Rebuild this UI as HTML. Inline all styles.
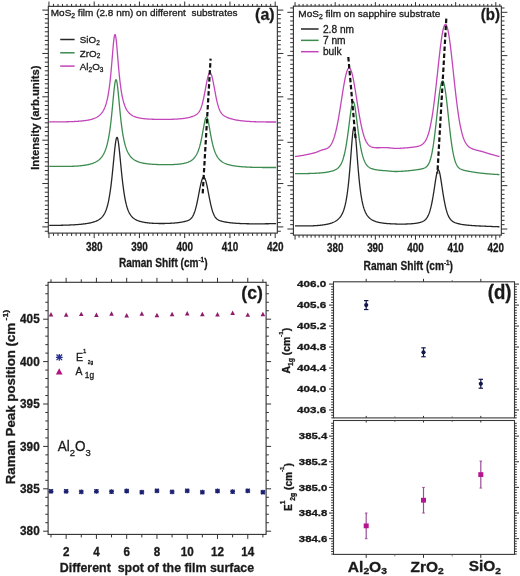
<!DOCTYPE html>
<html><head><meta charset="utf-8"><style>
html,body{margin:0;padding:0;background:#fff;}
svg{display:block;}
text{font-family:"Liberation Sans", Arial, sans-serif;}
</style></head><body>
<svg width="520" height="576" viewBox="0 0 520 576">
<rect width="520" height="576" fill="#fff"/>
<path d="M49.2,225.4 L49.7,225.4 L50.2,225.4 L50.7,225.4 L51.2,225.39 L51.7,225.39 L52.2,225.39 L52.7,225.38 L53.2,225.38 L53.7,225.38 L54.2,225.37 L54.7,225.37 L55.2,225.36 L55.7,225.36 L56.2,225.35 L56.7,225.35 L57.2,225.34 L57.7,225.33 L58.2,225.32 L58.7,225.32 L59.2,225.31 L59.7,225.3 L60.2,225.29 L60.7,225.28 L61.2,225.27 L61.7,225.26 L62.2,225.25 L62.7,225.24 L63.2,225.22 L63.7,225.21 L64.2,225.2 L64.7,225.18 L65.2,225.17 L65.7,225.16 L66.2,225.14 L66.7,225.12 L67.2,225.11 L67.7,225.09 L68.2,225.07 L68.7,225.05 L69.2,225.03 L69.7,225.01 L70.2,224.99 L70.7,224.97 L71.2,224.95 L71.7,224.92 L72.2,224.9 L72.7,224.87 L73.2,224.84 L73.7,224.82 L74.2,224.79 L74.7,224.76 L75.2,224.72 L75.7,224.69 L76.2,224.66 L76.7,224.62 L77.2,224.58 L77.7,224.54 L78.2,224.51 L78.7,224.46 L79.2,224.42 L79.7,224.38 L80.2,224.33 L80.7,224.28 L81.2,224.23 L81.7,224.18 L82.2,224.13 L82.7,224.08 L83.2,224.02 L83.7,223.96 L84.2,223.9 L84.7,223.83 L85.2,223.77 L85.7,223.7 L86.2,223.62 L86.7,223.55 L87.2,223.47 L87.7,223.39 L88.2,223.3 L88.7,223.21 L89.2,223.11 L89.7,223.01 L90.2,222.91 L90.7,222.8 L91.2,222.68 L91.7,222.56 L92.2,222.43 L92.7,222.29 L93.2,222.14 L93.7,221.99 L94.2,221.83 L94.7,221.65 L95.2,221.47 L95.7,221.27 L96.2,221.07 L96.7,220.84 L97.2,220.6 L97.7,220.35 L98.2,220.08 L98.7,219.78 L99.2,219.46 L99.7,219.12 L100.2,218.75 L100.7,218.34 L101.2,217.9 L101.7,217.42 L102.2,216.88 L102.7,216.3 L103.2,215.64 L103.7,214.92 L104.2,214.11 L104.7,213.2 L105.2,212.17 L105.7,211.02 L106.2,209.72 L106.7,208.26 L107.2,206.6 L107.7,204.74 L108.2,202.64 L108.7,200.28 L109.2,197.64 L109.7,194.7 L110.2,191.44 L110.7,187.84 L111.2,183.91 L111.7,179.63 L112.2,175.03 L112.7,170.15 L113.2,165.06 L113.7,159.87 L114.2,154.72 L114.7,149.8 L115.2,145.37 L115.7,141.68 L116.2,138.99 L116.7,137.51 L117.2,137.36 L117.7,138.57 L118.2,141.02 L118.7,144.53 L119.2,148.82 L119.7,153.65 L120.2,158.76 L120.7,163.95 L121.2,169.06 L121.7,173.97 L122.2,178.62 L122.7,182.95 L123.2,186.95 L123.7,190.6 L124.2,193.92 L124.7,196.91 L125.2,199.6 L125.7,202 L126.2,204.14 L126.7,206.03 L127.2,207.72 L127.7,209.21 L128.2,210.53 L128.7,211.69 L129.2,212.73 L129.7,213.65 L130.2,214.46 L130.7,215.19 L131.2,215.85 L131.7,216.44 L132.2,216.97 L132.7,217.45 L133.2,217.89 L133.7,218.29 L134.2,218.65 L134.7,218.99 L135.2,219.3 L135.7,219.59 L136.2,219.85 L136.7,220.1 L137.2,220.33 L137.7,220.54 L138.2,220.74 L138.7,220.92 L139.2,221.09 L139.7,221.26 L140.2,221.41 L140.7,221.55 L141.2,221.68 L141.7,221.81 L142.2,221.92 L142.7,222.03 L143.2,222.14 L143.7,222.23 L144.2,222.32 L144.7,222.41 L145.2,222.49 L145.7,222.57 L146.2,222.64 L146.7,222.71 L147.2,222.77 L147.7,222.83 L148.2,222.89 L148.7,222.94 L149.2,222.99 L149.7,223.04 L150.2,223.08 L150.7,223.12 L151.2,223.16 L151.7,223.19 L152.2,223.23 L152.7,223.26 L153.2,223.29 L153.7,223.31 L154.2,223.34 L154.7,223.36 L155.2,223.38 L155.7,223.4 L156.2,223.42 L156.7,223.44 L157.2,223.45 L157.7,223.46 L158.2,223.47 L158.7,223.48 L159.2,223.49 L159.7,223.5 L160.2,223.5 L160.7,223.51 L161.2,223.51 L161.7,223.51 L162.2,223.51 L162.7,223.5 L163.2,223.5 L163.7,223.5 L164.2,223.49 L164.7,223.48 L165.2,223.47 L165.7,223.46 L166.2,223.45 L166.7,223.43 L167.2,223.42 L167.7,223.4 L168.2,223.38 L168.7,223.37 L169.2,223.34 L169.7,223.32 L170.2,223.3 L170.7,223.27 L171.2,223.24 L171.7,223.21 L172.2,223.18 L172.7,223.15 L173.2,223.11 L173.7,223.07 L174.2,223.03 L174.7,222.99 L175.2,222.95 L175.7,222.9 L176.2,222.85 L176.7,222.8 L177.2,222.75 L177.7,222.69 L178.2,222.63 L178.7,222.57 L179.2,222.5 L179.7,222.43 L180.2,222.36 L180.7,222.28 L181.2,222.2 L181.7,222.11 L182.2,222.02 L182.7,221.93 L183.2,221.83 L183.7,221.73 L184.2,221.62 L184.7,221.5 L185.2,221.38 L185.7,221.25 L186.2,221.1 L186.7,220.95 L187.2,220.78 L187.7,220.6 L188.2,220.39 L188.7,220.16 L189.2,219.89 L189.7,219.58 L190.2,219.23 L190.7,218.82 L191.2,218.33 L191.7,217.76 L192.2,217.09 L192.7,216.31 L193.2,215.39 L193.7,214.33 L194.2,213.11 L194.7,211.72 L195.2,210.14 L195.7,208.37 L196.2,206.42 L196.7,204.29 L197.2,202 L197.7,199.56 L198.2,197.03 L198.7,194.43 L199.2,191.81 L199.7,189.24 L200.2,186.76 L200.7,184.45 L201.2,182.37 L201.7,180.57 L202.2,179.11 L202.7,178.03 L203.2,177.37 L203.7,177.15 L204.2,177.37 L204.7,178.03 L205.2,179.11 L205.7,180.57 L206.2,182.36 L206.7,184.45 L207.2,186.76 L207.7,189.23 L208.2,191.8 L208.7,194.42 L209.2,197.02 L209.7,199.55 L210.2,201.98 L210.7,204.27 L211.2,206.4 L211.7,208.35 L212.2,210.12 L212.7,211.7 L213.2,213.09 L213.7,214.31 L214.2,215.37 L214.7,216.29 L215.2,217.07 L215.7,217.74 L216.2,218.31 L216.7,218.79 L217.2,219.2 L217.7,219.56 L218.2,219.86 L218.7,220.13 L219.2,220.36 L219.7,220.57 L220.2,220.76 L220.7,220.92 L221.2,221.08 L221.7,221.22 L222.2,221.35 L222.7,221.48 L223.2,221.59 L223.7,221.7 L224.2,221.81 L224.7,221.91 L225.2,222 L225.7,222.09 L226.2,222.18 L226.7,222.26 L227.2,222.34 L227.7,222.41 L228.2,222.48 L228.7,222.55 L229.2,222.62 L229.7,222.68 L230.2,222.74 L230.7,222.8 L231.2,222.85 L231.7,222.9 L232.2,222.95 L232.7,223 L233.2,223.05 L233.7,223.09 L234.2,223.13 L234.7,223.17 L235.2,223.21 L235.7,223.24 L236.2,223.28 L236.7,223.31 L237.2,223.34 L237.7,223.38 L238.2,223.4 L238.7,223.43 L239.2,223.46 L239.7,223.49 L240.2,223.51 L240.7,223.53 L241.2,223.55 L241.7,223.58 L242.2,223.6 L242.7,223.61 L243.2,223.63 L243.7,223.65 L244.2,223.66 L244.7,223.68 L245.2,223.69 L245.7,223.71 L246.2,223.72 L246.7,223.73 L247.2,223.74 L247.7,223.75 L248.2,223.76 L248.7,223.77 L249.2,223.78 L249.7,223.78 L250.2,223.79 L250.7,223.8 L251.2,223.8 L251.7,223.81 L252.2,223.81 L252.7,223.81 L253.2,223.82 L253.7,223.82 L254.2,223.82 L254.7,223.82 L255.2,223.83 L255.7,223.83 L256.2,223.83 L256.7,223.83 L257.2,223.83 L257.7,223.82 L258.2,223.82 L258.7,223.82 L259.2,223.82 L259.7,223.82 L260.2,223.82 L260.7,223.81 L261.2,223.81 L261.7,223.81 L262.2,223.8 L262.7,223.8 L263.2,223.79 L263.7,223.79 L264.2,223.78 L264.7,223.78 L265.2,223.77 L265.7,223.77 L266.2,223.76 L266.7,223.75 L267.2,223.75 L267.7,223.74 L268.2,223.74 L268.7,223.73 L269.2,223.72 L269.7,223.71 L270.2,223.71 L270.7,223.7 L271.2,223.69 L271.7,223.68 L272.2,223.68 L272.7,223.67 L273.2,223.66 L273.7,223.65 L274.2,223.64 L274.7,223.63 L275.2,223.62 L275.7,223.62 L276.2,223.61" fill="none" stroke="#262626" stroke-width="1.3" stroke-linejoin="round" />
<path d="M49.2,166.3 L49.7,166.31 L50.2,166.32 L50.7,166.33 L51.2,166.34 L51.7,166.35 L52.2,166.36 L52.7,166.36 L53.2,166.37 L53.7,166.38 L54.2,166.39 L54.7,166.4 L55.2,166.4 L55.7,166.41 L56.2,166.41 L56.7,166.42 L57.2,166.43 L57.7,166.43 L58.2,166.43 L58.7,166.44 L59.2,166.44 L59.7,166.44 L60.2,166.45 L60.7,166.45 L61.2,166.45 L61.7,166.45 L62.2,166.45 L62.7,166.45 L63.2,166.45 L63.7,166.45 L64.2,166.44 L64.7,166.44 L65.2,166.44 L65.7,166.43 L66.2,166.43 L66.7,166.42 L67.2,166.41 L67.7,166.41 L68.2,166.4 L68.7,166.39 L69.2,166.38 L69.7,166.36 L70.2,166.35 L70.7,166.34 L71.2,166.32 L71.7,166.3 L72.2,166.29 L72.7,166.27 L73.2,166.25 L73.7,166.23 L74.2,166.2 L74.7,166.18 L75.2,166.15 L75.7,166.12 L76.2,166.09 L76.7,166.06 L77.2,166.03 L77.7,166 L78.2,165.96 L78.7,165.92 L79.2,165.88 L79.7,165.83 L80.2,165.79 L80.7,165.74 L81.2,165.69 L81.7,165.64 L82.2,165.58 L82.7,165.52 L83.2,165.46 L83.7,165.39 L84.2,165.32 L84.7,165.25 L85.2,165.17 L85.7,165.09 L86.2,165 L86.7,164.91 L87.2,164.82 L87.7,164.72 L88.2,164.61 L88.7,164.5 L89.2,164.38 L89.7,164.26 L90.2,164.13 L90.7,163.99 L91.2,163.84 L91.7,163.69 L92.2,163.52 L92.7,163.35 L93.2,163.16 L93.7,162.96 L94.2,162.76 L94.7,162.53 L95.2,162.3 L95.7,162.04 L96.2,161.77 L96.7,161.48 L97.2,161.17 L97.7,160.83 L98.2,160.47 L98.7,160.09 L99.2,159.67 L99.7,159.22 L100.2,158.73 L100.7,158.2 L101.2,157.62 L101.7,157 L102.2,156.31 L102.7,155.56 L103.2,154.74 L103.7,153.84 L104.2,152.85 L104.7,151.76 L105.2,150.55 L105.7,149.21 L106.2,147.73 L106.7,146.07 L107.2,144.23 L107.7,142.17 L108.2,139.87 L108.7,137.31 L109.2,134.43 L109.7,131.23 L110.2,127.67 L110.7,123.72 L111.2,119.38 L111.7,114.65 L112.2,109.6 L112.7,104.29 L113.2,98.89 L113.7,93.61 L114.2,88.73 L114.7,84.59 L115.2,81.52 L115.7,79.82 L116.2,79.65 L116.7,81.03 L117.2,83.81 L117.7,87.74 L118.2,92.47 L118.7,97.66 L119.2,103.04 L119.7,108.35 L120.2,113.44 L120.7,118.2 L121.2,122.59 L121.7,126.59 L122.2,130.21 L122.7,133.45 L123.2,136.36 L123.7,138.96 L124.2,141.29 L124.7,143.36 L125.2,145.22 L125.7,146.88 L126.2,148.37 L126.7,149.72 L127.2,150.92 L127.7,152.01 L128.2,153 L128.7,153.89 L129.2,154.7 L129.7,155.43 L130.2,156.11 L130.7,156.72 L131.2,157.28 L131.7,157.8 L132.2,158.27 L132.7,158.7 L133.2,159.1 L133.7,159.47 L134.2,159.81 L134.7,160.13 L135.2,160.42 L135.7,160.7 L136.2,160.95 L136.7,161.18 L137.2,161.4 L137.7,161.61 L138.2,161.8 L138.7,161.98 L139.2,162.14 L139.7,162.3 L140.2,162.45 L140.7,162.58 L141.2,162.71 L141.7,162.83 L142.2,162.95 L142.7,163.05 L143.2,163.15 L143.7,163.25 L144.2,163.34 L144.7,163.42 L145.2,163.5 L145.7,163.58 L146.2,163.65 L146.7,163.72 L147.2,163.78 L147.7,163.84 L148.2,163.9 L148.7,163.95 L149.2,164 L149.7,164.05 L150.2,164.09 L150.7,164.13 L151.2,164.17 L151.7,164.21 L152.2,164.25 L152.7,164.28 L153.2,164.31 L153.7,164.34 L154.2,164.37 L154.7,164.4 L155.2,164.43 L155.7,164.45 L156.2,164.47 L156.7,164.49 L157.2,164.51 L157.7,164.53 L158.2,164.55 L158.7,164.56 L159.2,164.58 L159.7,164.59 L160.2,164.6 L160.7,164.62 L161.2,164.63 L161.7,164.64 L162.2,164.64 L162.7,164.65 L163.2,164.66 L163.7,164.66 L164.2,164.67 L164.7,164.67 L165.2,164.67 L165.7,164.67 L166.2,164.67 L166.7,164.67 L167.2,164.67 L167.7,164.66 L168.2,164.66 L168.7,164.65 L169.2,164.64 L169.7,164.63 L170.2,164.62 L170.7,164.61 L171.2,164.6 L171.7,164.58 L172.2,164.56 L172.7,164.55 L173.2,164.53 L173.7,164.5 L174.2,164.48 L174.7,164.45 L175.2,164.42 L175.7,164.39 L176.2,164.36 L176.7,164.32 L177.2,164.29 L177.7,164.24 L178.2,164.2 L178.7,164.15 L179.2,164.1 L179.7,164.04 L180.2,163.98 L180.7,163.92 L181.2,163.85 L181.7,163.78 L182.2,163.7 L182.7,163.62 L183.2,163.53 L183.7,163.43 L184.2,163.32 L184.7,163.21 L185.2,163.09 L185.7,162.96 L186.2,162.82 L186.7,162.67 L187.2,162.5 L187.7,162.33 L188.2,162.14 L188.7,161.93 L189.2,161.71 L189.7,161.46 L190.2,161.2 L190.7,160.91 L191.2,160.6 L191.7,160.26 L192.2,159.88 L192.7,159.47 L193.2,159.03 L193.7,158.53 L194.2,157.99 L194.7,157.39 L195.2,156.73 L195.7,156 L196.2,155.19 L196.7,154.3 L197.2,153.3 L197.7,152.19 L198.2,150.96 L198.7,149.59 L199.2,148.08 L199.7,146.39 L200.2,144.53 L200.7,142.48 L201.2,140.24 L201.7,137.81 L202.2,135.2 L202.7,132.46 L203.2,129.63 L203.7,126.8 L204.2,124.08 L204.7,121.61 L205.2,119.55 L205.7,118.05 L206.2,117.24 L206.7,117.18 L207.2,117.88 L207.7,119.28 L208.2,121.28 L208.7,123.71 L209.2,126.42 L209.7,129.27 L210.2,132.14 L210.7,134.94 L211.2,137.61 L211.7,140.11 L212.2,142.42 L212.7,144.54 L213.2,146.48 L213.7,148.23 L214.2,149.81 L214.7,151.24 L215.2,152.53 L215.7,153.69 L216.2,154.74 L216.7,155.69 L217.2,156.55 L217.7,157.33 L218.2,158.03 L218.7,158.67 L219.2,159.26 L219.7,159.79 L220.2,160.28 L220.7,160.73 L221.2,161.14 L221.7,161.52 L222.2,161.87 L222.7,162.19 L223.2,162.49 L223.7,162.77 L224.2,163.03 L224.7,163.27 L225.2,163.49 L225.7,163.7 L226.2,163.9 L226.7,164.08 L227.2,164.26 L227.7,164.42 L228.2,164.57 L228.7,164.71 L229.2,164.85 L229.7,164.98 L230.2,165.1 L230.7,165.21 L231.2,165.32 L231.7,165.42 L232.2,165.52 L232.7,165.61 L233.2,165.7 L233.7,165.79 L234.2,165.87 L234.7,165.94 L235.2,166.02 L235.7,166.09 L236.2,166.15 L236.7,166.22 L237.2,166.28 L237.7,166.33 L238.2,166.39 L238.7,166.44 L239.2,166.49 L239.7,166.54 L240.2,166.59 L240.7,166.63 L241.2,166.68 L241.7,166.72 L242.2,166.76 L242.7,166.8 L243.2,166.83 L243.7,166.87 L244.2,166.9 L244.7,166.93 L245.2,166.96 L245.7,166.99 L246.2,167.02 L246.7,167.05 L247.2,167.07 L247.7,167.1 L248.2,167.12 L248.7,167.15 L249.2,167.17 L249.7,167.19 L250.2,167.21 L250.7,167.23 L251.2,167.24 L251.7,167.26 L252.2,167.28 L252.7,167.29 L253.2,167.31 L253.7,167.32 L254.2,167.34 L254.7,167.35 L255.2,167.36 L255.7,167.37 L256.2,167.39 L256.7,167.4 L257.2,167.41 L257.7,167.42 L258.2,167.42 L258.7,167.43 L259.2,167.44 L259.7,167.45 L260.2,167.46 L260.7,167.46 L261.2,167.47 L261.7,167.47 L262.2,167.48 L262.7,167.48 L263.2,167.49 L263.7,167.49 L264.2,167.5 L264.7,167.5 L265.2,167.5 L265.7,167.51 L266.2,167.51 L266.7,167.51 L267.2,167.51 L267.7,167.51 L268.2,167.52 L268.7,167.52 L269.2,167.52 L269.7,167.52 L270.2,167.52 L270.7,167.52 L271.2,167.52 L271.7,167.52 L272.2,167.52 L272.7,167.51 L273.2,167.51 L273.7,167.51 L274.2,167.51 L274.7,167.51 L275.2,167.51 L275.7,167.5 L276.2,167.5" fill="none" stroke="#3c8c50" stroke-width="1.3" stroke-linejoin="round" />
<path d="M49.2,121.9 L49.7,121.9 L50.2,121.91 L50.7,121.91 L51.2,121.91 L51.7,121.91 L52.2,121.91 L52.7,121.91 L53.2,121.91 L53.7,121.91 L54.2,121.91 L54.7,121.91 L55.2,121.91 L55.7,121.91 L56.2,121.91 L56.7,121.91 L57.2,121.9 L57.7,121.9 L58.2,121.9 L58.7,121.89 L59.2,121.89 L59.7,121.89 L60.2,121.88 L60.7,121.88 L61.2,121.87 L61.7,121.86 L62.2,121.86 L62.7,121.85 L63.2,121.84 L63.7,121.83 L64.2,121.82 L64.7,121.81 L65.2,121.8 L65.7,121.79 L66.2,121.78 L66.7,121.77 L67.2,121.76 L67.7,121.75 L68.2,121.73 L68.7,121.72 L69.2,121.7 L69.7,121.69 L70.2,121.67 L70.7,121.65 L71.2,121.63 L71.7,121.61 L72.2,121.59 L72.7,121.57 L73.2,121.55 L73.7,121.53 L74.2,121.5 L74.7,121.48 L75.2,121.45 L75.7,121.42 L76.2,121.4 L76.7,121.37 L77.2,121.33 L77.7,121.3 L78.2,121.27 L78.7,121.23 L79.2,121.19 L79.7,121.15 L80.2,121.11 L80.7,121.07 L81.2,121.02 L81.7,120.98 L82.2,120.93 L82.7,120.87 L83.2,120.82 L83.7,120.76 L84.2,120.7 L84.7,120.64 L85.2,120.57 L85.7,120.5 L86.2,120.43 L86.7,120.35 L87.2,120.27 L87.7,120.18 L88.2,120.09 L88.7,119.99 L89.2,119.89 L89.7,119.78 L90.2,119.66 L90.7,119.54 L91.2,119.41 L91.7,119.27 L92.2,119.13 L92.7,118.97 L93.2,118.8 L93.7,118.63 L94.2,118.44 L94.7,118.24 L95.2,118.02 L95.7,117.79 L96.2,117.54 L96.7,117.27 L97.2,116.98 L97.7,116.67 L98.2,116.34 L98.7,115.97 L99.2,115.58 L99.7,115.15 L100.2,114.68 L100.7,114.17 L101.2,113.61 L101.7,113 L102.2,112.33 L102.7,111.59 L103.2,110.77 L103.7,109.85 L104.2,108.84 L104.7,107.71 L105.2,106.45 L105.7,105.03 L106.2,103.44 L106.7,101.64 L107.2,99.6 L107.7,97.29 L108.2,94.67 L108.7,91.69 L109.2,88.32 L109.7,84.49 L110.2,80.17 L110.7,75.34 L111.2,70.01 L111.7,64.22 L112.2,58.12 L112.7,51.94 L113.2,46.04 L113.7,40.87 L114.2,36.94 L114.7,34.72 L115.2,34.5 L115.7,36.3 L116.2,39.88 L116.7,44.81 L117.2,50.57 L117.7,56.69 L118.2,62.79 L118.7,68.62 L119.2,74.01 L119.7,78.91 L120.2,83.29 L120.7,87.18 L121.2,90.61 L121.7,93.63 L122.2,96.28 L122.7,98.61 L123.2,100.66 L123.7,102.47 L124.2,104.07 L124.7,105.49 L125.2,106.75 L125.7,107.87 L126.2,108.87 L126.7,109.77 L127.2,110.57 L127.7,111.3 L128.2,111.95 L128.7,112.54 L129.2,113.08 L129.7,113.56 L130.2,114.01 L130.7,114.41 L131.2,114.78 L131.7,115.12 L132.2,115.43 L132.7,115.72 L133.2,115.98 L133.7,116.22 L134.2,116.45 L134.7,116.65 L135.2,116.84 L135.7,117.02 L136.2,117.18 L136.7,117.34 L137.2,117.48 L137.7,117.61 L138.2,117.73 L138.7,117.85 L139.2,117.95 L139.7,118.05 L140.2,118.15 L140.7,118.23 L141.2,118.32 L141.7,118.39 L142.2,118.46 L142.7,118.53 L143.2,118.59 L143.7,118.65 L144.2,118.7 L144.7,118.76 L145.2,118.8 L145.7,118.85 L146.2,118.89 L146.7,118.93 L147.2,118.97 L147.7,119 L148.2,119.04 L148.7,119.07 L149.2,119.1 L149.7,119.12 L150.2,119.15 L150.7,119.17 L151.2,119.19 L151.7,119.21 L152.2,119.23 L152.7,119.25 L153.2,119.27 L153.7,119.28 L154.2,119.3 L154.7,119.31 L155.2,119.32 L155.7,119.33 L156.2,119.35 L156.7,119.36 L157.2,119.36 L157.7,119.37 L158.2,119.38 L158.7,119.39 L159.2,119.39 L159.7,119.4 L160.2,119.4 L160.7,119.41 L161.2,119.41 L161.7,119.41 L162.2,119.41 L162.7,119.41 L163.2,119.41 L163.7,119.41 L164.2,119.41 L164.7,119.41 L165.2,119.41 L165.7,119.4 L166.2,119.4 L166.7,119.39 L167.2,119.39 L167.7,119.38 L168.2,119.37 L168.7,119.36 L169.2,119.35 L169.7,119.34 L170.2,119.33 L170.7,119.32 L171.2,119.3 L171.7,119.29 L172.2,119.27 L172.7,119.25 L173.2,119.24 L173.7,119.22 L174.2,119.2 L174.7,119.17 L175.2,119.15 L175.7,119.12 L176.2,119.1 L176.7,119.07 L177.2,119.04 L177.7,119 L178.2,118.97 L178.7,118.93 L179.2,118.89 L179.7,118.85 L180.2,118.81 L180.7,118.77 L181.2,118.72 L181.7,118.67 L182.2,118.61 L182.7,118.55 L183.2,118.49 L183.7,118.43 L184.2,118.36 L184.7,118.29 L185.2,118.22 L185.7,118.14 L186.2,118.05 L186.7,117.96 L187.2,117.87 L187.7,117.77 L188.2,117.66 L188.7,117.55 L189.2,117.44 L189.7,117.31 L190.2,117.18 L190.7,117.04 L191.2,116.89 L191.7,116.73 L192.2,116.57 L192.7,116.39 L193.2,116.2 L193.7,116 L194.2,115.78 L194.7,115.54 L195.2,115.28 L195.7,114.99 L196.2,114.67 L196.7,114.32 L197.2,113.91 L197.7,113.45 L198.2,112.92 L198.7,112.31 L199.2,111.59 L199.7,110.76 L200.2,109.79 L200.7,108.66 L201.2,107.37 L201.7,105.88 L202.2,104.2 L202.7,102.31 L203.2,100.22 L203.7,97.94 L204.2,95.49 L204.7,92.91 L205.2,90.23 L205.7,87.51 L206.2,84.82 L206.7,82.23 L207.2,79.81 L207.7,77.64 L208.2,75.8 L208.7,74.35 L209.2,73.33 L209.7,72.8 L210.2,72.76 L210.7,73.23 L211.2,74.18 L211.7,75.59 L212.2,77.39 L212.7,79.53 L213.2,81.94 L213.7,84.53 L214.2,87.24 L214.7,89.99 L215.2,92.71 L215.7,95.35 L216.2,97.87 L216.7,100.22 L217.2,102.38 L217.7,104.34 L218.2,106.09 L218.7,107.65 L219.2,109.01 L219.7,110.2 L220.2,111.23 L220.7,112.12 L221.2,112.89 L221.7,113.56 L222.2,114.13 L222.7,114.64 L223.2,115.08 L223.7,115.48 L224.2,115.84 L224.7,116.16 L225.2,116.45 L225.7,116.72 L226.2,116.98 L226.7,117.21 L227.2,117.44 L227.7,117.64 L228.2,117.84 L228.7,118.03 L229.2,118.21 L229.7,118.38 L230.2,118.54 L230.7,118.69 L231.2,118.84 L231.7,118.98 L232.2,119.12 L232.7,119.24 L233.2,119.37 L233.7,119.48 L234.2,119.59 L234.7,119.7 L235.2,119.8 L235.7,119.9 L236.2,119.99 L236.7,120.08 L237.2,120.17 L237.7,120.25 L238.2,120.33 L238.7,120.41 L239.2,120.48 L239.7,120.55 L240.2,120.62 L240.7,120.68 L241.2,120.74 L241.7,120.8 L242.2,120.86 L242.7,120.91 L243.2,120.96 L243.7,121.01 L244.2,121.06 L244.7,121.11 L245.2,121.15 L245.7,121.2 L246.2,121.24 L246.7,121.28 L247.2,121.31 L247.7,121.35 L248.2,121.39 L248.7,121.42 L249.2,121.45 L249.7,121.48 L250.2,121.51 L250.7,121.54 L251.2,121.57 L251.7,121.59 L252.2,121.62 L252.7,121.64 L253.2,121.66 L253.7,121.68 L254.2,121.71 L254.7,121.73 L255.2,121.74 L255.7,121.76 L256.2,121.78 L256.7,121.8 L257.2,121.81 L257.7,121.83 L258.2,121.84 L258.7,121.85 L259.2,121.86 L259.7,121.88 L260.2,121.89 L260.7,121.9 L261.2,121.91 L261.7,121.92 L262.2,121.93 L262.7,121.94 L263.2,121.94 L263.7,121.95 L264.2,121.96 L264.7,121.96 L265.2,121.97 L265.7,121.97 L266.2,121.98 L266.7,121.98 L267.2,121.99 L267.7,121.99 L268.2,121.99 L268.7,122 L269.2,122 L269.7,122 L270.2,122 L270.7,122 L271.2,122.01 L271.7,122.01 L272.2,122.01 L272.7,122.01 L273.2,122.01 L273.7,122.01 L274.2,122.01 L274.7,122.01 L275.2,122 L275.7,122 L276.2,122" fill="none" stroke="#c246b9" stroke-width="1.3" stroke-linejoin="round" />
<line x1="202.7" y1="193.4" x2="210.6" y2="58.6" stroke="#111" stroke-width="2.2" stroke-dasharray="4.5,2.5"/>
<rect x="48.3" y="6.35" width="229.05" height="226.75" fill="none" stroke="#303030" stroke-width="1.1"/>
<line x1="48.95" y1="233.1" x2="48.95" y2="238.1" stroke="#303030" stroke-width="1.0" />
<line x1="48.95" y1="6.35" x2="48.95" y2="1.55" stroke="#303030" stroke-width="1.0" />
<line x1="53.48" y1="233.1" x2="53.48" y2="235.9" stroke="#303030" stroke-width="1.0" />
<line x1="53.48" y1="6.35" x2="53.48" y2="3.95" stroke="#303030" stroke-width="1.0" />
<line x1="58" y1="233.1" x2="58" y2="235.9" stroke="#303030" stroke-width="1.0" />
<line x1="58" y1="6.35" x2="58" y2="3.95" stroke="#303030" stroke-width="1.0" />
<line x1="62.52" y1="233.1" x2="62.52" y2="235.9" stroke="#303030" stroke-width="1.0" />
<line x1="62.52" y1="6.35" x2="62.52" y2="3.95" stroke="#303030" stroke-width="1.0" />
<line x1="67.05" y1="233.1" x2="67.05" y2="235.9" stroke="#303030" stroke-width="1.0" />
<line x1="67.05" y1="6.35" x2="67.05" y2="3.95" stroke="#303030" stroke-width="1.0" />
<line x1="71.58" y1="233.1" x2="71.58" y2="235.9" stroke="#303030" stroke-width="1.0" />
<line x1="71.58" y1="6.35" x2="71.58" y2="3.95" stroke="#303030" stroke-width="1.0" />
<line x1="76.1" y1="233.1" x2="76.1" y2="235.9" stroke="#303030" stroke-width="1.0" />
<line x1="76.1" y1="6.35" x2="76.1" y2="3.95" stroke="#303030" stroke-width="1.0" />
<line x1="80.62" y1="233.1" x2="80.62" y2="235.9" stroke="#303030" stroke-width="1.0" />
<line x1="80.62" y1="6.35" x2="80.62" y2="3.95" stroke="#303030" stroke-width="1.0" />
<line x1="85.15" y1="233.1" x2="85.15" y2="235.9" stroke="#303030" stroke-width="1.0" />
<line x1="85.15" y1="6.35" x2="85.15" y2="3.95" stroke="#303030" stroke-width="1.0" />
<line x1="89.67" y1="233.1" x2="89.67" y2="235.9" stroke="#303030" stroke-width="1.0" />
<line x1="89.67" y1="6.35" x2="89.67" y2="3.95" stroke="#303030" stroke-width="1.0" />
<line x1="94.2" y1="233.1" x2="94.2" y2="238.1" stroke="#303030" stroke-width="1.0" />
<line x1="94.2" y1="6.35" x2="94.2" y2="1.55" stroke="#303030" stroke-width="1.0" />
<line x1="98.73" y1="233.1" x2="98.73" y2="235.9" stroke="#303030" stroke-width="1.0" />
<line x1="98.73" y1="6.35" x2="98.73" y2="3.95" stroke="#303030" stroke-width="1.0" />
<line x1="103.25" y1="233.1" x2="103.25" y2="235.9" stroke="#303030" stroke-width="1.0" />
<line x1="103.25" y1="6.35" x2="103.25" y2="3.95" stroke="#303030" stroke-width="1.0" />
<line x1="107.78" y1="233.1" x2="107.78" y2="235.9" stroke="#303030" stroke-width="1.0" />
<line x1="107.78" y1="6.35" x2="107.78" y2="3.95" stroke="#303030" stroke-width="1.0" />
<line x1="112.3" y1="233.1" x2="112.3" y2="235.9" stroke="#303030" stroke-width="1.0" />
<line x1="112.3" y1="6.35" x2="112.3" y2="3.95" stroke="#303030" stroke-width="1.0" />
<line x1="116.83" y1="233.1" x2="116.83" y2="235.9" stroke="#303030" stroke-width="1.0" />
<line x1="116.83" y1="6.35" x2="116.83" y2="3.95" stroke="#303030" stroke-width="1.0" />
<line x1="121.35" y1="233.1" x2="121.35" y2="235.9" stroke="#303030" stroke-width="1.0" />
<line x1="121.35" y1="6.35" x2="121.35" y2="3.95" stroke="#303030" stroke-width="1.0" />
<line x1="125.88" y1="233.1" x2="125.88" y2="235.9" stroke="#303030" stroke-width="1.0" />
<line x1="125.88" y1="6.35" x2="125.88" y2="3.95" stroke="#303030" stroke-width="1.0" />
<line x1="130.4" y1="233.1" x2="130.4" y2="235.9" stroke="#303030" stroke-width="1.0" />
<line x1="130.4" y1="6.35" x2="130.4" y2="3.95" stroke="#303030" stroke-width="1.0" />
<line x1="134.93" y1="233.1" x2="134.93" y2="235.9" stroke="#303030" stroke-width="1.0" />
<line x1="134.93" y1="6.35" x2="134.93" y2="3.95" stroke="#303030" stroke-width="1.0" />
<line x1="139.45" y1="233.1" x2="139.45" y2="238.1" stroke="#303030" stroke-width="1.0" />
<line x1="139.45" y1="6.35" x2="139.45" y2="1.55" stroke="#303030" stroke-width="1.0" />
<line x1="143.98" y1="233.1" x2="143.98" y2="235.9" stroke="#303030" stroke-width="1.0" />
<line x1="143.98" y1="6.35" x2="143.98" y2="3.95" stroke="#303030" stroke-width="1.0" />
<line x1="148.5" y1="233.1" x2="148.5" y2="235.9" stroke="#303030" stroke-width="1.0" />
<line x1="148.5" y1="6.35" x2="148.5" y2="3.95" stroke="#303030" stroke-width="1.0" />
<line x1="153.03" y1="233.1" x2="153.03" y2="235.9" stroke="#303030" stroke-width="1.0" />
<line x1="153.03" y1="6.35" x2="153.03" y2="3.95" stroke="#303030" stroke-width="1.0" />
<line x1="157.55" y1="233.1" x2="157.55" y2="235.9" stroke="#303030" stroke-width="1.0" />
<line x1="157.55" y1="6.35" x2="157.55" y2="3.95" stroke="#303030" stroke-width="1.0" />
<line x1="162.07" y1="233.1" x2="162.07" y2="235.9" stroke="#303030" stroke-width="1.0" />
<line x1="162.07" y1="6.35" x2="162.07" y2="3.95" stroke="#303030" stroke-width="1.0" />
<line x1="166.6" y1="233.1" x2="166.6" y2="235.9" stroke="#303030" stroke-width="1.0" />
<line x1="166.6" y1="6.35" x2="166.6" y2="3.95" stroke="#303030" stroke-width="1.0" />
<line x1="171.12" y1="233.1" x2="171.12" y2="235.9" stroke="#303030" stroke-width="1.0" />
<line x1="171.12" y1="6.35" x2="171.12" y2="3.95" stroke="#303030" stroke-width="1.0" />
<line x1="175.65" y1="233.1" x2="175.65" y2="235.9" stroke="#303030" stroke-width="1.0" />
<line x1="175.65" y1="6.35" x2="175.65" y2="3.95" stroke="#303030" stroke-width="1.0" />
<line x1="180.18" y1="233.1" x2="180.18" y2="235.9" stroke="#303030" stroke-width="1.0" />
<line x1="180.18" y1="6.35" x2="180.18" y2="3.95" stroke="#303030" stroke-width="1.0" />
<line x1="184.7" y1="233.1" x2="184.7" y2="238.1" stroke="#303030" stroke-width="1.0" />
<line x1="184.7" y1="6.35" x2="184.7" y2="1.55" stroke="#303030" stroke-width="1.0" />
<line x1="189.23" y1="233.1" x2="189.23" y2="235.9" stroke="#303030" stroke-width="1.0" />
<line x1="189.23" y1="6.35" x2="189.23" y2="3.95" stroke="#303030" stroke-width="1.0" />
<line x1="193.75" y1="233.1" x2="193.75" y2="235.9" stroke="#303030" stroke-width="1.0" />
<line x1="193.75" y1="6.35" x2="193.75" y2="3.95" stroke="#303030" stroke-width="1.0" />
<line x1="198.28" y1="233.1" x2="198.28" y2="235.9" stroke="#303030" stroke-width="1.0" />
<line x1="198.28" y1="6.35" x2="198.28" y2="3.95" stroke="#303030" stroke-width="1.0" />
<line x1="202.8" y1="233.1" x2="202.8" y2="235.9" stroke="#303030" stroke-width="1.0" />
<line x1="202.8" y1="6.35" x2="202.8" y2="3.95" stroke="#303030" stroke-width="1.0" />
<line x1="207.33" y1="233.1" x2="207.33" y2="235.9" stroke="#303030" stroke-width="1.0" />
<line x1="207.33" y1="6.35" x2="207.33" y2="3.95" stroke="#303030" stroke-width="1.0" />
<line x1="211.85" y1="233.1" x2="211.85" y2="235.9" stroke="#303030" stroke-width="1.0" />
<line x1="211.85" y1="6.35" x2="211.85" y2="3.95" stroke="#303030" stroke-width="1.0" />
<line x1="216.38" y1="233.1" x2="216.38" y2="235.9" stroke="#303030" stroke-width="1.0" />
<line x1="216.38" y1="6.35" x2="216.38" y2="3.95" stroke="#303030" stroke-width="1.0" />
<line x1="220.9" y1="233.1" x2="220.9" y2="235.9" stroke="#303030" stroke-width="1.0" />
<line x1="220.9" y1="6.35" x2="220.9" y2="3.95" stroke="#303030" stroke-width="1.0" />
<line x1="225.43" y1="233.1" x2="225.43" y2="235.9" stroke="#303030" stroke-width="1.0" />
<line x1="225.43" y1="6.35" x2="225.43" y2="3.95" stroke="#303030" stroke-width="1.0" />
<line x1="229.95" y1="233.1" x2="229.95" y2="238.1" stroke="#303030" stroke-width="1.0" />
<line x1="229.95" y1="6.35" x2="229.95" y2="1.55" stroke="#303030" stroke-width="1.0" />
<line x1="234.48" y1="233.1" x2="234.48" y2="235.9" stroke="#303030" stroke-width="1.0" />
<line x1="234.48" y1="6.35" x2="234.48" y2="3.95" stroke="#303030" stroke-width="1.0" />
<line x1="239" y1="233.1" x2="239" y2="235.9" stroke="#303030" stroke-width="1.0" />
<line x1="239" y1="6.35" x2="239" y2="3.95" stroke="#303030" stroke-width="1.0" />
<line x1="243.53" y1="233.1" x2="243.53" y2="235.9" stroke="#303030" stroke-width="1.0" />
<line x1="243.53" y1="6.35" x2="243.53" y2="3.95" stroke="#303030" stroke-width="1.0" />
<line x1="248.05" y1="233.1" x2="248.05" y2="235.9" stroke="#303030" stroke-width="1.0" />
<line x1="248.05" y1="6.35" x2="248.05" y2="3.95" stroke="#303030" stroke-width="1.0" />
<line x1="252.57" y1="233.1" x2="252.57" y2="235.9" stroke="#303030" stroke-width="1.0" />
<line x1="252.57" y1="6.35" x2="252.57" y2="3.95" stroke="#303030" stroke-width="1.0" />
<line x1="257.1" y1="233.1" x2="257.1" y2="235.9" stroke="#303030" stroke-width="1.0" />
<line x1="257.1" y1="6.35" x2="257.1" y2="3.95" stroke="#303030" stroke-width="1.0" />
<line x1="261.62" y1="233.1" x2="261.62" y2="235.9" stroke="#303030" stroke-width="1.0" />
<line x1="261.62" y1="6.35" x2="261.62" y2="3.95" stroke="#303030" stroke-width="1.0" />
<line x1="266.15" y1="233.1" x2="266.15" y2="235.9" stroke="#303030" stroke-width="1.0" />
<line x1="266.15" y1="6.35" x2="266.15" y2="3.95" stroke="#303030" stroke-width="1.0" />
<line x1="270.68" y1="233.1" x2="270.68" y2="235.9" stroke="#303030" stroke-width="1.0" />
<line x1="270.68" y1="6.35" x2="270.68" y2="3.95" stroke="#303030" stroke-width="1.0" />
<line x1="275.2" y1="233.1" x2="275.2" y2="238.1" stroke="#303030" stroke-width="1.0" />
<line x1="275.2" y1="6.35" x2="275.2" y2="1.55" stroke="#303030" stroke-width="1.0" />
<line x1="48.3" y1="10.1" x2="42.3" y2="10.1" stroke="#303030" stroke-width="1.0" />
<line x1="277.35" y1="10.1" x2="283.35" y2="10.1" stroke="#303030" stroke-width="1.0" />
<line x1="48.3" y1="14.44" x2="44.8" y2="14.44" stroke="#303030" stroke-width="1.0" />
<line x1="277.35" y1="14.44" x2="280.85" y2="14.44" stroke="#303030" stroke-width="1.0" />
<line x1="48.3" y1="18.77" x2="44.8" y2="18.77" stroke="#303030" stroke-width="1.0" />
<line x1="277.35" y1="18.77" x2="280.85" y2="18.77" stroke="#303030" stroke-width="1.0" />
<line x1="48.3" y1="23.11" x2="44.8" y2="23.11" stroke="#303030" stroke-width="1.0" />
<line x1="277.35" y1="23.11" x2="280.85" y2="23.11" stroke="#303030" stroke-width="1.0" />
<line x1="48.3" y1="27.44" x2="44.8" y2="27.44" stroke="#303030" stroke-width="1.0" />
<line x1="277.35" y1="27.44" x2="280.85" y2="27.44" stroke="#303030" stroke-width="1.0" />
<line x1="48.3" y1="31.78" x2="44.8" y2="31.78" stroke="#303030" stroke-width="1.0" />
<line x1="277.35" y1="31.78" x2="280.85" y2="31.78" stroke="#303030" stroke-width="1.0" />
<line x1="48.3" y1="36.12" x2="44.8" y2="36.12" stroke="#303030" stroke-width="1.0" />
<line x1="277.35" y1="36.12" x2="280.85" y2="36.12" stroke="#303030" stroke-width="1.0" />
<line x1="48.3" y1="40.45" x2="44.8" y2="40.45" stroke="#303030" stroke-width="1.0" />
<line x1="277.35" y1="40.45" x2="280.85" y2="40.45" stroke="#303030" stroke-width="1.0" />
<line x1="48.3" y1="44.79" x2="44.8" y2="44.79" stroke="#303030" stroke-width="1.0" />
<line x1="277.35" y1="44.79" x2="280.85" y2="44.79" stroke="#303030" stroke-width="1.0" />
<line x1="48.3" y1="49.12" x2="44.8" y2="49.12" stroke="#303030" stroke-width="1.0" />
<line x1="277.35" y1="49.12" x2="280.85" y2="49.12" stroke="#303030" stroke-width="1.0" />
<line x1="48.3" y1="53.46" x2="42.3" y2="53.46" stroke="#303030" stroke-width="1.0" />
<line x1="277.35" y1="53.46" x2="283.35" y2="53.46" stroke="#303030" stroke-width="1.0" />
<line x1="48.3" y1="57.8" x2="44.8" y2="57.8" stroke="#303030" stroke-width="1.0" />
<line x1="277.35" y1="57.8" x2="280.85" y2="57.8" stroke="#303030" stroke-width="1.0" />
<line x1="48.3" y1="62.13" x2="44.8" y2="62.13" stroke="#303030" stroke-width="1.0" />
<line x1="277.35" y1="62.13" x2="280.85" y2="62.13" stroke="#303030" stroke-width="1.0" />
<line x1="48.3" y1="66.47" x2="44.8" y2="66.47" stroke="#303030" stroke-width="1.0" />
<line x1="277.35" y1="66.47" x2="280.85" y2="66.47" stroke="#303030" stroke-width="1.0" />
<line x1="48.3" y1="70.8" x2="44.8" y2="70.8" stroke="#303030" stroke-width="1.0" />
<line x1="277.35" y1="70.8" x2="280.85" y2="70.8" stroke="#303030" stroke-width="1.0" />
<line x1="48.3" y1="75.14" x2="44.8" y2="75.14" stroke="#303030" stroke-width="1.0" />
<line x1="277.35" y1="75.14" x2="280.85" y2="75.14" stroke="#303030" stroke-width="1.0" />
<line x1="48.3" y1="79.48" x2="44.8" y2="79.48" stroke="#303030" stroke-width="1.0" />
<line x1="277.35" y1="79.48" x2="280.85" y2="79.48" stroke="#303030" stroke-width="1.0" />
<line x1="48.3" y1="83.81" x2="44.8" y2="83.81" stroke="#303030" stroke-width="1.0" />
<line x1="277.35" y1="83.81" x2="280.85" y2="83.81" stroke="#303030" stroke-width="1.0" />
<line x1="48.3" y1="88.15" x2="44.8" y2="88.15" stroke="#303030" stroke-width="1.0" />
<line x1="277.35" y1="88.15" x2="280.85" y2="88.15" stroke="#303030" stroke-width="1.0" />
<line x1="48.3" y1="92.48" x2="44.8" y2="92.48" stroke="#303030" stroke-width="1.0" />
<line x1="277.35" y1="92.48" x2="280.85" y2="92.48" stroke="#303030" stroke-width="1.0" />
<line x1="48.3" y1="96.82" x2="42.3" y2="96.82" stroke="#303030" stroke-width="1.0" />
<line x1="277.35" y1="96.82" x2="283.35" y2="96.82" stroke="#303030" stroke-width="1.0" />
<line x1="48.3" y1="101.16" x2="44.8" y2="101.16" stroke="#303030" stroke-width="1.0" />
<line x1="277.35" y1="101.16" x2="280.85" y2="101.16" stroke="#303030" stroke-width="1.0" />
<line x1="48.3" y1="105.49" x2="44.8" y2="105.49" stroke="#303030" stroke-width="1.0" />
<line x1="277.35" y1="105.49" x2="280.85" y2="105.49" stroke="#303030" stroke-width="1.0" />
<line x1="48.3" y1="109.83" x2="44.8" y2="109.83" stroke="#303030" stroke-width="1.0" />
<line x1="277.35" y1="109.83" x2="280.85" y2="109.83" stroke="#303030" stroke-width="1.0" />
<line x1="48.3" y1="114.16" x2="44.8" y2="114.16" stroke="#303030" stroke-width="1.0" />
<line x1="277.35" y1="114.16" x2="280.85" y2="114.16" stroke="#303030" stroke-width="1.0" />
<line x1="48.3" y1="118.5" x2="44.8" y2="118.5" stroke="#303030" stroke-width="1.0" />
<line x1="277.35" y1="118.5" x2="280.85" y2="118.5" stroke="#303030" stroke-width="1.0" />
<line x1="48.3" y1="122.84" x2="44.8" y2="122.84" stroke="#303030" stroke-width="1.0" />
<line x1="277.35" y1="122.84" x2="280.85" y2="122.84" stroke="#303030" stroke-width="1.0" />
<line x1="48.3" y1="127.17" x2="44.8" y2="127.17" stroke="#303030" stroke-width="1.0" />
<line x1="277.35" y1="127.17" x2="280.85" y2="127.17" stroke="#303030" stroke-width="1.0" />
<line x1="48.3" y1="131.51" x2="44.8" y2="131.51" stroke="#303030" stroke-width="1.0" />
<line x1="277.35" y1="131.51" x2="280.85" y2="131.51" stroke="#303030" stroke-width="1.0" />
<line x1="48.3" y1="135.84" x2="44.8" y2="135.84" stroke="#303030" stroke-width="1.0" />
<line x1="277.35" y1="135.84" x2="280.85" y2="135.84" stroke="#303030" stroke-width="1.0" />
<line x1="48.3" y1="140.18" x2="42.3" y2="140.18" stroke="#303030" stroke-width="1.0" />
<line x1="277.35" y1="140.18" x2="283.35" y2="140.18" stroke="#303030" stroke-width="1.0" />
<line x1="48.3" y1="144.52" x2="44.8" y2="144.52" stroke="#303030" stroke-width="1.0" />
<line x1="277.35" y1="144.52" x2="280.85" y2="144.52" stroke="#303030" stroke-width="1.0" />
<line x1="48.3" y1="148.85" x2="44.8" y2="148.85" stroke="#303030" stroke-width="1.0" />
<line x1="277.35" y1="148.85" x2="280.85" y2="148.85" stroke="#303030" stroke-width="1.0" />
<line x1="48.3" y1="153.19" x2="44.8" y2="153.19" stroke="#303030" stroke-width="1.0" />
<line x1="277.35" y1="153.19" x2="280.85" y2="153.19" stroke="#303030" stroke-width="1.0" />
<line x1="48.3" y1="157.52" x2="44.8" y2="157.52" stroke="#303030" stroke-width="1.0" />
<line x1="277.35" y1="157.52" x2="280.85" y2="157.52" stroke="#303030" stroke-width="1.0" />
<line x1="48.3" y1="161.86" x2="44.8" y2="161.86" stroke="#303030" stroke-width="1.0" />
<line x1="277.35" y1="161.86" x2="280.85" y2="161.86" stroke="#303030" stroke-width="1.0" />
<line x1="48.3" y1="166.2" x2="44.8" y2="166.2" stroke="#303030" stroke-width="1.0" />
<line x1="277.35" y1="166.2" x2="280.85" y2="166.2" stroke="#303030" stroke-width="1.0" />
<line x1="48.3" y1="170.53" x2="44.8" y2="170.53" stroke="#303030" stroke-width="1.0" />
<line x1="277.35" y1="170.53" x2="280.85" y2="170.53" stroke="#303030" stroke-width="1.0" />
<line x1="48.3" y1="174.87" x2="44.8" y2="174.87" stroke="#303030" stroke-width="1.0" />
<line x1="277.35" y1="174.87" x2="280.85" y2="174.87" stroke="#303030" stroke-width="1.0" />
<line x1="48.3" y1="179.2" x2="44.8" y2="179.2" stroke="#303030" stroke-width="1.0" />
<line x1="277.35" y1="179.2" x2="280.85" y2="179.2" stroke="#303030" stroke-width="1.0" />
<line x1="48.3" y1="183.54" x2="42.3" y2="183.54" stroke="#303030" stroke-width="1.0" />
<line x1="277.35" y1="183.54" x2="283.35" y2="183.54" stroke="#303030" stroke-width="1.0" />
<line x1="48.3" y1="187.88" x2="44.8" y2="187.88" stroke="#303030" stroke-width="1.0" />
<line x1="277.35" y1="187.88" x2="280.85" y2="187.88" stroke="#303030" stroke-width="1.0" />
<line x1="48.3" y1="192.21" x2="44.8" y2="192.21" stroke="#303030" stroke-width="1.0" />
<line x1="277.35" y1="192.21" x2="280.85" y2="192.21" stroke="#303030" stroke-width="1.0" />
<line x1="48.3" y1="196.55" x2="44.8" y2="196.55" stroke="#303030" stroke-width="1.0" />
<line x1="277.35" y1="196.55" x2="280.85" y2="196.55" stroke="#303030" stroke-width="1.0" />
<line x1="48.3" y1="200.88" x2="44.8" y2="200.88" stroke="#303030" stroke-width="1.0" />
<line x1="277.35" y1="200.88" x2="280.85" y2="200.88" stroke="#303030" stroke-width="1.0" />
<line x1="48.3" y1="205.22" x2="44.8" y2="205.22" stroke="#303030" stroke-width="1.0" />
<line x1="277.35" y1="205.22" x2="280.85" y2="205.22" stroke="#303030" stroke-width="1.0" />
<line x1="48.3" y1="209.56" x2="44.8" y2="209.56" stroke="#303030" stroke-width="1.0" />
<line x1="277.35" y1="209.56" x2="280.85" y2="209.56" stroke="#303030" stroke-width="1.0" />
<line x1="48.3" y1="213.89" x2="44.8" y2="213.89" stroke="#303030" stroke-width="1.0" />
<line x1="277.35" y1="213.89" x2="280.85" y2="213.89" stroke="#303030" stroke-width="1.0" />
<line x1="48.3" y1="218.23" x2="44.8" y2="218.23" stroke="#303030" stroke-width="1.0" />
<line x1="277.35" y1="218.23" x2="280.85" y2="218.23" stroke="#303030" stroke-width="1.0" />
<line x1="48.3" y1="222.56" x2="44.8" y2="222.56" stroke="#303030" stroke-width="1.0" />
<line x1="277.35" y1="222.56" x2="280.85" y2="222.56" stroke="#303030" stroke-width="1.0" />
<line x1="48.3" y1="226.9" x2="42.3" y2="226.9" stroke="#303030" stroke-width="1.0" />
<line x1="277.35" y1="226.9" x2="283.35" y2="226.9" stroke="#303030" stroke-width="1.0" />
<line x1="48.3" y1="231.24" x2="44.8" y2="231.24" stroke="#303030" stroke-width="1.0" />
<line x1="277.35" y1="231.24" x2="280.85" y2="231.24" stroke="#303030" stroke-width="1.0" />
<text x="94.2" y="251.1" font-size="12.2" stroke="#1a1a1a" stroke-width="0.3" font-weight="bold" text-anchor="middle" textLength="16.6" lengthAdjust="spacingAndGlyphs" fill="#1a1a1a">380</text>
<text x="139.45" y="251.1" font-size="12.2" stroke="#1a1a1a" stroke-width="0.3" font-weight="bold" text-anchor="middle" textLength="16.6" lengthAdjust="spacingAndGlyphs" fill="#1a1a1a">390</text>
<text x="184.7" y="251.1" font-size="12.2" stroke="#1a1a1a" stroke-width="0.3" font-weight="bold" text-anchor="middle" textLength="16.6" lengthAdjust="spacingAndGlyphs" fill="#1a1a1a">400</text>
<text x="229.95" y="251.1" font-size="12.2" stroke="#1a1a1a" stroke-width="0.3" font-weight="bold" text-anchor="middle" textLength="16.6" lengthAdjust="spacingAndGlyphs" fill="#1a1a1a">410</text>
<text x="275.2" y="251.1" font-size="12.2" stroke="#1a1a1a" stroke-width="0.3" font-weight="bold" text-anchor="middle" textLength="16.6" lengthAdjust="spacingAndGlyphs" fill="#1a1a1a">420</text>
<text x="118.9" y="267.4" font-size="12.8" stroke="#1a1a1a" stroke-width="0.3" font-weight="bold" textLength="88.6" lengthAdjust="spacingAndGlyphs" fill="#1a1a1a">Raman Shift (cm<tspan font-size="8" dy="-5.5">-1</tspan><tspan dy="5.5">)</tspan></text>
<text x="0" y="0" font-size="11.8" stroke="#1a1a1a" stroke-width="0.3" font-weight="bold" textLength="104.3" lengthAdjust="spacingAndGlyphs" fill="#1a1a1a" transform="translate(39,169.8) rotate(-90)">Intensity (arb.units)</text>
<text x="50.8" y="16.4" font-size="9.6" stroke="#1a1a1a" stroke-width="0.3" textLength="186.7" lengthAdjust="spacingAndGlyphs" fill="#1a1a1a">MoS<tspan font-size="6.5" dy="2">2</tspan><tspan dy="-2"> film (2.8 nm) on different&#160; substrates</tspan></text>
<text x="255.1" y="19.9" font-size="17.2" stroke="#1a1a1a" stroke-width="0.3" font-weight="bold" textLength="19.5" lengthAdjust="spacingAndGlyphs" fill="#1a1a1a">(a)</text>
<line x1="60.2" y1="39.5" x2="74.6" y2="39.5" stroke="#262626" stroke-width="1.5" />
<text x="79.8" y="43.3" font-size="9.8" stroke="#1a1a1a" stroke-width="0.3" fill="#1a1a1a">SiO<tspan font-size="6.5" dy="1.8">2</tspan></text>
<line x1="60.2" y1="52.8" x2="74.6" y2="52.8" stroke="#3c8c50" stroke-width="1.5" />
<text x="79.8" y="56.6" font-size="9.8" stroke="#1a1a1a" stroke-width="0.3" fill="#1a1a1a">ZrO<tspan font-size="6.5" dy="1.8">2</tspan></text>
<line x1="60.2" y1="66.1" x2="74.6" y2="66.1" stroke="#c246b9" stroke-width="1.5" />
<text x="79.8" y="69.9" font-size="9.8" stroke="#1a1a1a" stroke-width="0.3" fill="#1a1a1a">Al<tspan font-size="6.5" dy="1.8">2</tspan><tspan dy="-1.8">O</tspan><tspan font-size="6.5" dy="1.8">3</tspan></text>
<path d="M295,225.8 L295.5,225.81 L296,225.82 L296.5,225.83 L297,225.84 L297.5,225.84 L298,225.85 L298.5,225.86 L299,225.87 L299.5,225.87 L300,225.88 L300.5,225.89 L301,225.89 L301.5,225.9 L302,225.9 L302.5,225.91 L303,225.91 L303.5,225.91 L304,225.91 L304.5,225.91 L305,225.91 L305.5,225.91 L306,225.91 L306.5,225.91 L307,225.91 L307.5,225.9 L308,225.9 L308.5,225.89 L309,225.88 L309.5,225.87 L310,225.86 L310.5,225.85 L311,225.84 L311.5,225.83 L312,225.81 L312.5,225.79 L313,225.78 L313.5,225.75 L314,225.73 L314.5,225.71 L315,225.68 L315.5,225.66 L316,225.63 L316.5,225.59 L317,225.56 L317.5,225.52 L318,225.48 L318.5,225.44 L319,225.4 L319.5,225.35 L320,225.3 L320.5,225.25 L321,225.19 L321.5,225.13 L322,225.07 L322.5,225.01 L323,224.94 L323.5,224.87 L324,224.79 L324.5,224.71 L325,224.63 L325.5,224.54 L326,224.45 L326.5,224.36 L327,224.25 L327.5,224.15 L328,224.03 L328.5,223.91 L329,223.78 L329.5,223.65 L330,223.51 L330.5,223.36 L331,223.2 L331.5,223.03 L332,222.85 L332.5,222.65 L333,222.45 L333.5,222.23 L334,222 L334.5,221.75 L335,221.48 L335.5,221.19 L336,220.88 L336.5,220.55 L337,220.18 L337.5,219.79 L338,219.37 L338.5,218.91 L339,218.41 L339.5,217.86 L340,217.26 L340.5,216.59 L341,215.86 L341.5,215.04 L342,214.14 L342.5,213.12 L343,211.98 L343.5,210.69 L344,209.23 L344.5,207.58 L345,205.7 L345.5,203.57 L346,201.15 L346.5,198.4 L347,195.28 L347.5,191.75 L348,187.78 L348.5,183.33 L349,178.38 L349.5,172.93 L350,167.01 L350.5,160.7 L351,154.12 L351.5,147.51 L352,141.18 L352.5,135.54 L353,131.05 L353.5,128.13 L354,127.11 L354.5,128.1 L355,130.98 L355.5,135.45 L356,141.06 L356.5,147.35 L357,153.94 L357.5,160.48 L358,166.77 L358.5,172.66 L359,178.07 L359.5,182.99 L360,187.41 L360.5,191.35 L361,194.85 L361.5,197.94 L362,200.66 L362.5,203.06 L363,205.16 L363.5,207.01 L364,208.63 L364.5,210.06 L365,211.31 L365.5,212.43 L366,213.42 L366.5,214.3 L367,215.08 L367.5,215.79 L368,216.43 L368.5,217 L369,217.52 L369.5,218 L370,218.43 L370.5,218.83 L371,219.19 L371.5,219.53 L372,219.84 L372.5,220.12 L373,220.38 L373.5,220.63 L374,220.85 L374.5,221.06 L375,221.26 L375.5,221.44 L376,221.61 L376.5,221.76 L377,221.91 L377.5,222.05 L378,222.18 L378.5,222.3 L379,222.41 L379.5,222.52 L380,222.62 L380.5,222.71 L381,222.8 L381.5,222.88 L382,222.96 L382.5,223.03 L383,223.1 L383.5,223.17 L384,223.23 L384.5,223.29 L385,223.34 L385.5,223.39 L386,223.44 L386.5,223.49 L387,223.53 L387.5,223.57 L388,223.61 L388.5,223.65 L389,223.68 L389.5,223.71 L390,223.75 L390.5,223.77 L391,223.8 L391.5,223.83 L392,223.85 L392.5,223.87 L393,223.9 L393.5,223.92 L394,223.94 L394.5,223.95 L395,223.97 L395.5,223.99 L396,224 L396.5,224.01 L397,224.03 L397.5,224.04 L398,224.04 L398.5,224.05 L399,224.06 L399.5,224.07 L400,224.07 L400.5,224.07 L401,224.07 L401.5,224.07 L402,224.07 L402.5,224.07 L403,224.07 L403.5,224.06 L404,224.06 L404.5,224.05 L405,224.04 L405.5,224.03 L406,224.02 L406.5,224 L407,223.99 L407.5,223.97 L408,223.95 L408.5,223.93 L409,223.9 L409.5,223.88 L410,223.85 L410.5,223.82 L411,223.79 L411.5,223.75 L412,223.71 L412.5,223.67 L413,223.63 L413.5,223.58 L414,223.53 L414.5,223.47 L415,223.41 L415.5,223.34 L416,223.27 L416.5,223.2 L417,223.12 L417.5,223.03 L418,222.93 L418.5,222.83 L419,222.71 L419.5,222.59 L420,222.46 L420.5,222.31 L421,222.15 L421.5,221.98 L422,221.78 L422.5,221.56 L423,221.32 L423.5,221.05 L424,220.74 L424.5,220.39 L425,219.98 L425.5,219.52 L426,218.99 L426.5,218.38 L427,217.68 L427.5,216.86 L428,215.93 L428.5,214.85 L429,213.63 L429.5,212.23 L430,210.65 L430.5,208.87 L431,206.88 L431.5,204.67 L432,202.25 L432.5,199.6 L433,196.76 L433.5,193.72 L434,190.54 L434.5,187.25 L435,183.93 L435.5,180.67 L436,177.6 L436.5,174.85 L437,172.57 L437.5,170.92 L438,170.03 L438.5,169.95 L439,170.71 L439.5,172.23 L440,174.42 L440.5,177.11 L441,180.15 L441.5,183.4 L442,186.74 L442.5,190.06 L443,193.29 L443.5,196.38 L444,199.28 L444.5,201.99 L445,204.48 L445.5,206.75 L446,208.8 L446.5,210.64 L447,212.28 L447.5,213.74 L448,215.02 L448.5,216.14 L449,217.12 L449.5,217.98 L450,218.73 L450.5,219.38 L451,219.94 L451.5,220.44 L452,220.87 L452.5,221.25 L453,221.59 L453.5,221.89 L454,222.16 L454.5,222.41 L455,222.63 L455.5,222.83 L456,223.01 L456.5,223.18 L457,223.34 L457.5,223.49 L458,223.62 L458.5,223.75 L459,223.87 L459.5,223.98 L460,224.09 L460.5,224.19 L461,224.28 L461.5,224.37 L462,224.46 L462.5,224.53 L463,224.61 L463.5,224.68 L464,224.75 L464.5,224.82 L465,224.88 L465.5,224.94 L466,225 L466.5,225.05 L467,225.11 L467.5,225.16 L468,225.21 L468.5,225.25 L469,225.3 L469.5,225.34 L470,225.38 L470.5,225.42 L471,225.46 L471.5,225.5 L472,225.54 L472.5,225.57 L473,225.61 L473.5,225.64 L474,225.67 L474.5,225.7 L475,225.73 L475.5,225.76 L476,225.79 L476.5,225.82 L477,225.85 L477.5,225.88 L478,225.9 L478.5,225.93 L479,225.95 L479.5,225.98 L480,226 L480.5,226.02 L481,226.05 L481.5,226.07 L482,226.09 L482.5,226.11 L483,226.14 L483.5,226.16 L484,226.18 L484.5,226.2 L485,226.22 L485.5,226.25 L486,226.27 L486.5,226.29 L487,226.31 L487.5,226.33 L488,226.35 L488.5,226.37 L489,226.39 L489.5,226.41 L490,226.43 L490.5,226.45 L491,226.47 L491.5,226.49 L492,226.51 L492.5,226.53 L493,226.55 L493.5,226.57 L494,226.59 L494.5,226.61 L495,226.63 L495.5,226.65 L496,226.67 L496.5,226.69 L497,226.71 L497.5,226.72 L498,226.74 L498.5,226.76 L499,226.78 L499.5,226.8" fill="none" stroke="#262626" stroke-width="1.3" stroke-linejoin="round" />
<path d="M295,173.6 L295.5,173.6 L296,173.6 L296.5,173.61 L297,173.61 L297.5,173.61 L298,173.61 L298.5,173.61 L299,173.61 L299.5,173.61 L300,173.61 L300.5,173.61 L301,173.6 L301.5,173.6 L302,173.6 L302.5,173.6 L303,173.59 L303.5,173.59 L304,173.58 L304.5,173.58 L305,173.57 L305.5,173.56 L306,173.56 L306.5,173.55 L307,173.54 L307.5,173.53 L308,173.52 L308.5,173.51 L309,173.5 L309.5,173.49 L310,173.47 L310.5,173.46 L311,173.44 L311.5,173.43 L312,173.41 L312.5,173.39 L313,173.37 L313.5,173.36 L314,173.33 L314.5,173.31 L315,173.29 L315.5,173.27 L316,173.24 L316.5,173.21 L317,173.19 L317.5,173.16 L318,173.12 L318.5,173.09 L319,173.06 L319.5,173.02 L320,172.98 L320.5,172.94 L321,172.9 L321.5,172.86 L322,172.81 L322.5,172.76 L323,172.71 L323.5,172.66 L324,172.6 L324.5,172.54 L325,172.48 L325.5,172.41 L326,172.34 L326.5,172.26 L327,172.19 L327.5,172.1 L328,172.01 L328.5,171.92 L329,171.82 L329.5,171.71 L330,171.6 L330.5,171.48 L331,171.36 L331.5,171.22 L332,171.08 L332.5,170.93 L333,170.76 L333.5,170.58 L334,170.39 L334.5,170.18 L335,169.96 L335.5,169.71 L336,169.44 L336.5,169.14 L337,168.8 L337.5,168.43 L338,168.02 L338.5,167.55 L339,167.02 L339.5,166.42 L340,165.74 L340.5,164.97 L341,164.09 L341.5,163.09 L342,161.96 L342.5,160.68 L343,159.24 L343.5,157.61 L344,155.79 L344.5,153.76 L345,151.52 L345.5,149.04 L346,146.33 L346.5,143.37 L347,140.19 L347.5,136.77 L348,133.15 L348.5,129.35 L349,125.41 L349.5,121.4 L350,117.41 L350.5,113.55 L351,109.97 L351.5,106.82 L352,104.28 L352.5,102.5 L353,101.62 L353.5,101.7 L354,102.72 L354.5,104.62 L355,107.25 L355.5,110.46 L356,114.07 L356.5,117.92 L357,121.88 L357.5,125.84 L358,129.71 L358.5,133.43 L359,136.97 L359.5,140.3 L360,143.4 L360.5,146.26 L361,148.89 L361.5,151.28 L362,153.44 L362.5,155.38 L363,157.12 L363.5,158.67 L364,160.04 L364.5,161.25 L365,162.31 L365.5,163.24 L366,164.06 L366.5,164.77 L367,165.4 L367.5,165.94 L368,166.42 L368.5,166.84 L369,167.21 L369.5,167.54 L370,167.83 L370.5,168.09 L371,168.32 L371.5,168.53 L372,168.71 L372.5,168.88 L373,169.04 L373.5,169.18 L374,169.31 L374.5,169.43 L375,169.54 L375.5,169.65 L376,169.74 L376.5,169.83 L377,169.91 L377.5,169.98 L378,170.05 L378.5,170.12 L379,170.18 L379.5,170.24 L380,170.29 L380.5,170.34 L381,170.38 L381.5,170.43 L382,170.47 L382.5,170.5 L383,170.54 L383.5,170.57 L384,170.6 L384.5,170.63 L385,170.67 L385.5,170.7 L386,170.75 L386.5,170.79 L387,170.84 L387.5,170.89 L388,170.94 L388.5,170.99 L389,171.04 L389.5,171.09 L390,171.14 L390.5,171.19 L391,171.24 L391.5,171.28 L392,171.33 L392.5,171.37 L393,171.4 L393.5,171.44 L394,171.46 L394.5,171.48 L395,171.5 L395.5,171.51 L396,171.52 L396.5,171.51 L397,171.5 L397.5,171.48 L398,171.47 L398.5,171.45 L399,171.42 L399.5,171.4 L400,171.38 L400.5,171.35 L401,171.32 L401.5,171.3 L402,171.27 L402.5,171.23 L403,171.2 L403.5,171.17 L404,171.13 L404.5,171.1 L405,171.06 L405.5,171.02 L406,170.98 L406.5,170.93 L407,170.89 L407.5,170.85 L408,170.8 L408.5,170.75 L409,170.7 L409.5,170.65 L410,170.6 L410.5,170.55 L411,170.49 L411.5,170.44 L412,170.38 L412.5,170.32 L413,170.26 L413.5,170.2 L414,170.14 L414.5,170.07 L415,170.01 L415.5,169.94 L416,169.87 L416.5,169.8 L417,169.73 L417.5,169.65 L418,169.58 L418.5,169.5 L419,169.42 L419.5,169.33 L420,169.24 L420.5,169.15 L421,169.05 L421.5,168.94 L422,168.83 L422.5,168.7 L423,168.56 L423.5,168.41 L424,168.22 L424.5,168.01 L425,167.77 L425.5,167.48 L426,167.13 L426.5,166.72 L427,166.23 L427.5,165.64 L428,164.94 L428.5,164.11 L429,163.13 L429.5,161.97 L430,160.61 L430.5,159.04 L431,157.23 L431.5,155.15 L432,152.8 L432.5,150.17 L433,147.23 L433.5,143.99 L434,140.46 L434.5,136.66 L435,132.59 L435.5,128.31 L436,123.84 L436.5,119.26 L437,114.6 L437.5,109.96 L438,105.39 L438.5,100.99 L439,96.84 L439.5,93.02 L440,89.6 L440.5,86.67 L441,84.29 L441.5,82.51 L442,81.38 L442.5,80.92 L443,81.14 L443.5,82.04 L444,83.59 L444.5,85.77 L445,88.52 L445.5,91.78 L446,95.48 L446.5,99.54 L447,103.88 L447.5,108.42 L448,113.07 L448.5,117.76 L449,122.42 L449.5,126.97 L450,131.36 L450.5,135.55 L451,139.49 L451.5,143.16 L452,146.55 L452.5,149.63 L453,152.42 L453.5,154.92 L454,157.13 L454.5,159.07 L455,160.77 L455.5,162.24 L456,163.5 L456.5,164.58 L457,165.5 L457.5,166.28 L458,166.94 L458.5,167.49 L459,167.96 L459.5,168.36 L460,168.7 L460.5,168.99 L461,169.24 L461.5,169.46 L462,169.66 L462.5,169.83 L463,169.99 L463.5,170.13 L464,170.27 L464.5,170.4 L465,170.52 L465.5,170.64 L466,170.75 L466.5,170.86 L467,170.96 L467.5,171.06 L468,171.16 L468.5,171.26 L469,171.36 L469.5,171.45 L470,171.54 L470.5,171.63 L471,171.72 L471.5,171.81 L472,171.89 L472.5,171.98 L473,172.06 L473.5,172.14 L474,172.21 L474.5,172.29 L475,172.37 L475.5,172.44 L476,172.51 L476.5,172.58 L477,172.65 L477.5,172.72 L478,172.78 L478.5,172.85 L479,172.91 L479.5,172.97 L480,173.03 L480.5,173.09 L481,173.15 L481.5,173.21 L482,173.26 L482.5,173.32 L483,173.37 L483.5,173.42 L484,173.47 L484.5,173.52 L485,173.57 L485.5,173.62 L486,173.67 L486.5,173.71 L487,173.75 L487.5,173.8 L488,173.84 L488.5,173.88 L489,173.92 L489.5,173.96 L490,174 L490.5,174.04 L491,174.07 L491.5,174.11 L492,174.15 L492.5,174.18 L493,174.21 L493.5,174.25 L494,174.28 L494.5,174.31 L495,174.34 L495.5,174.37 L496,174.4 L496.5,174.43 L497,174.46 L497.5,174.49 L498,174.51 L498.5,174.54 L499,174.57 L499.5,174.59" fill="none" stroke="#3c8c50" stroke-width="1.3" stroke-linejoin="round" />
<path d="M295,156.5 L295.5,156.45 L296,156.39 L296.5,156.34 L297,156.28 L297.5,156.21 L298,156.15 L298.5,156.08 L299,156.01 L299.5,155.94 L300,155.86 L300.5,155.78 L301,155.7 L301.5,155.62 L302,155.54 L302.5,155.45 L303,155.36 L303.5,155.27 L304,155.18 L304.5,155.08 L305,154.98 L305.5,154.89 L306,154.79 L306.5,154.68 L307,154.58 L307.5,154.48 L308,154.37 L308.5,154.26 L309,154.15 L309.5,154.04 L310,153.93 L310.5,153.82 L311,153.7 L311.5,153.59 L312,153.47 L312.5,153.36 L313,153.24 L313.5,153.12 L314,153 L314.5,152.87 L315,152.72 L315.5,152.56 L316,152.38 L316.5,152.19 L317,152 L317.5,151.79 L318,151.59 L318.5,151.38 L319,151.17 L319.5,150.97 L320,150.76 L320.5,150.57 L321,150.38 L321.5,150.2 L322,150.04 L322.5,149.88 L323,149.74 L323.5,149.61 L324,149.5 L324.5,149.39 L325,149.25 L325.5,149.1 L326,148.92 L326.5,148.71 L327,148.47 L327.5,148.19 L328,147.87 L328.5,147.49 L329,147.06 L329.5,146.56 L330,145.99 L330.5,145.35 L331,144.61 L331.5,143.78 L332,142.84 L332.5,141.79 L333,140.62 L333.5,139.32 L334,137.88 L334.5,136.3 L335,134.58 L335.5,132.7 L336,130.67 L336.5,128.49 L337,126.15 L337.5,123.66 L338,121.04 L338.5,118.28 L339,115.39 L339.5,112.41 L340,109.33 L340.5,106.18 L341,102.98 L341.5,99.76 L342,96.54 L342.5,93.35 L343,90.22 L343.5,87.18 L344,84.27 L344.5,81.51 L345,78.94 L345.5,76.57 L346,74.45 L346.5,72.6 L347,71.03 L347.5,69.77 L348,68.83 L348.5,68.23 L349,67.97 L349.5,68.06 L350,68.49 L350.5,69.26 L351,70.35 L351.5,71.76 L352,73.47 L352.5,75.45 L353,77.69 L353.5,80.15 L354,82.8 L354.5,85.62 L355,88.57 L355.5,91.63 L356,94.77 L356.5,97.94 L357,101.13 L357.5,104.3 L358,107.44 L358.5,110.51 L359,113.5 L359.5,116.39 L360,119.17 L360.5,121.81 L361,124.32 L361.5,126.68 L362,128.89 L362.5,130.94 L363,132.84 L363.5,134.59 L364,136.19 L364.5,137.64 L365,138.96 L365.5,140.14 L366,141.2 L366.5,142.14 L367,142.98 L367.5,143.71 L368,144.35 L368.5,144.91 L369,145.39 L369.5,145.81 L370,146.17 L370.5,146.47 L371,146.73 L371.5,146.94 L372,147.12 L372.5,147.27 L373,147.39 L373.5,147.48 L374,147.56 L374.5,147.62 L375,147.67 L375.5,147.71 L376,147.73 L376.5,147.75 L377,147.76 L377.5,147.76 L378,147.76 L378.5,147.76 L379,147.75 L379.5,147.74 L380,147.73 L380.5,147.72 L381,147.71 L381.5,147.69 L382,147.67 L382.5,147.66 L383,147.64 L383.5,147.62 L384,147.6 L384.5,147.59 L385,147.58 L385.5,147.59 L386,147.6 L386.5,147.62 L387,147.65 L387.5,147.69 L388,147.73 L388.5,147.77 L389,147.82 L389.5,147.87 L390,147.92 L390.5,147.98 L391,148.03 L391.5,148.09 L392,148.14 L392.5,148.19 L393,148.24 L393.5,148.28 L394,148.32 L394.5,148.35 L395,148.38 L395.5,148.4 L396,148.41 L396.5,148.41 L397,148.4 L397.5,148.39 L398,148.37 L398.5,148.35 L399,148.33 L399.5,148.31 L400,148.28 L400.5,148.26 L401,148.23 L401.5,148.2 L402,148.17 L402.5,148.13 L403,148.1 L403.5,148.06 L404,148.02 L404.5,147.99 L405,147.95 L405.5,147.91 L406,147.86 L406.5,147.82 L407,147.78 L407.5,147.73 L408,147.69 L408.5,147.64 L409,147.6 L409.5,147.55 L410,147.5 L410.5,147.45 L411,147.4 L411.5,147.35 L412,147.29 L412.5,147.23 L413,147.17 L413.5,147.11 L414,147.04 L414.5,146.97 L415,146.89 L415.5,146.81 L416,146.72 L416.5,146.63 L417,146.52 L417.5,146.41 L418,146.29 L418.5,146.15 L419,146 L419.5,145.83 L420,145.64 L420.5,145.42 L421,145.17 L421.5,144.9 L422,144.58 L422.5,144.22 L423,143.81 L423.5,143.34 L424,142.81 L424.5,142.2 L425,141.51 L425.5,140.72 L426,139.84 L426.5,138.84 L427,137.72 L427.5,136.46 L428,135.05 L428.5,133.49 L429,131.75 L429.5,129.84 L430,127.74 L430.5,125.43 L431,122.93 L431.5,120.21 L432,117.28 L432.5,114.14 L433,110.78 L433.5,107.22 L434,103.46 L434.5,99.51 L435,95.39 L435.5,91.11 L436,86.7 L436.5,82.18 L437,77.59 L437.5,72.95 L438,68.31 L438.5,63.69 L439,59.14 L439.5,54.7 L440,50.41 L440.5,46.32 L441,42.47 L441.5,38.9 L442,35.65 L442.5,32.75 L443,30.24 L443.5,28.15 L444,26.5 L444.5,25.31 L445,24.61 L445.5,24.38 L446,24.65 L446.5,25.41 L447,26.64 L447.5,28.33 L448,30.47 L448.5,33.03 L449,35.97 L449.5,39.27 L450,42.89 L450.5,46.79 L451,50.92 L451.5,55.26 L452,59.74 L452.5,64.34 L453,69 L453.5,73.7 L454,78.38 L454.5,83.02 L455,87.59 L455.5,92.04 L456,96.37 L456.5,100.54 L457,104.54 L457.5,108.35 L458,111.96 L458.5,115.36 L459,118.56 L459.5,121.53 L460,124.3 L460.5,126.85 L461,129.21 L461.5,131.36 L462,133.32 L462.5,135.11 L463,136.72 L463.5,138.18 L464,139.49 L464.5,140.67 L465,141.72 L465.5,142.65 L466,143.49 L466.5,144.23 L467,144.89 L467.5,145.48 L468,146 L468.5,146.47 L469,146.88 L469.5,147.25 L470,147.59 L470.5,147.89 L471,148.16 L471.5,148.41 L472,148.63 L472.5,148.84 L473,149.04 L473.5,149.22 L474,149.39 L474.5,149.55 L475,149.71 L475.5,149.85 L476,149.99 L476.5,150.13 L477,150.26 L477.5,150.39 L478,150.52 L478.5,150.64 L479,150.76 L479.5,150.88 L480,151 L480.5,151.12 L481,151.25 L481.5,151.38 L482,151.52 L482.5,151.66 L483,151.81 L483.5,151.96 L484,152.12 L484.5,152.28 L485,152.44 L485.5,152.6 L486,152.76 L486.5,152.92 L487,153.08 L487.5,153.24 L488,153.4 L488.5,153.56 L489,153.71 L489.5,153.86 L490,154 L490.5,154.14 L491,154.28 L491.5,154.42 L492,154.56 L492.5,154.7 L493,154.83 L493.5,154.97 L494,155.11 L494.5,155.24 L495,155.38 L495.5,155.51 L496,155.65 L496.5,155.78 L497,155.91 L497.5,156.05 L498,156.18 L498.5,156.31 L499,156.44 L499.5,156.57" fill="none" stroke="#c246b9" stroke-width="1.3" stroke-linejoin="round" />
<line x1="348.3" y1="57" x2="355.5" y2="138.2" stroke="#111" stroke-width="2.2" stroke-dasharray="4.5,2.5"/>
<line x1="446.3" y1="18.6" x2="437.4" y2="173.5" stroke="#111" stroke-width="2.2" stroke-dasharray="4.5,2.5"/>
<rect x="293.4" y="6.15" width="207.95" height="228.95" fill="none" stroke="#303030" stroke-width="1.1"/>
<line x1="295.05" y1="235.1" x2="295.05" y2="239.6" stroke="#303030" stroke-width="1.0" />
<line x1="295.05" y1="6.15" x2="295.05" y2="2.15" stroke="#303030" stroke-width="1.0" />
<line x1="299.06" y1="235.1" x2="299.06" y2="237.7" stroke="#303030" stroke-width="1.0" />
<line x1="299.06" y1="6.15" x2="299.06" y2="3.95" stroke="#303030" stroke-width="1.0" />
<line x1="303.08" y1="235.1" x2="303.08" y2="237.7" stroke="#303030" stroke-width="1.0" />
<line x1="303.08" y1="6.15" x2="303.08" y2="3.95" stroke="#303030" stroke-width="1.0" />
<line x1="307.09" y1="235.1" x2="307.09" y2="237.7" stroke="#303030" stroke-width="1.0" />
<line x1="307.09" y1="6.15" x2="307.09" y2="3.95" stroke="#303030" stroke-width="1.0" />
<line x1="311.11" y1="235.1" x2="311.11" y2="237.7" stroke="#303030" stroke-width="1.0" />
<line x1="311.11" y1="6.15" x2="311.11" y2="3.95" stroke="#303030" stroke-width="1.0" />
<line x1="315.12" y1="235.1" x2="315.12" y2="237.7" stroke="#303030" stroke-width="1.0" />
<line x1="315.12" y1="6.15" x2="315.12" y2="3.95" stroke="#303030" stroke-width="1.0" />
<line x1="319.14" y1="235.1" x2="319.14" y2="237.7" stroke="#303030" stroke-width="1.0" />
<line x1="319.14" y1="6.15" x2="319.14" y2="3.95" stroke="#303030" stroke-width="1.0" />
<line x1="323.15" y1="235.1" x2="323.15" y2="237.7" stroke="#303030" stroke-width="1.0" />
<line x1="323.15" y1="6.15" x2="323.15" y2="3.95" stroke="#303030" stroke-width="1.0" />
<line x1="327.17" y1="235.1" x2="327.17" y2="237.7" stroke="#303030" stroke-width="1.0" />
<line x1="327.17" y1="6.15" x2="327.17" y2="3.95" stroke="#303030" stroke-width="1.0" />
<line x1="331.19" y1="235.1" x2="331.19" y2="237.7" stroke="#303030" stroke-width="1.0" />
<line x1="331.19" y1="6.15" x2="331.19" y2="3.95" stroke="#303030" stroke-width="1.0" />
<line x1="335.2" y1="235.1" x2="335.2" y2="239.6" stroke="#303030" stroke-width="1.0" />
<line x1="335.2" y1="6.15" x2="335.2" y2="2.15" stroke="#303030" stroke-width="1.0" />
<line x1="339.21" y1="235.1" x2="339.21" y2="237.7" stroke="#303030" stroke-width="1.0" />
<line x1="339.21" y1="6.15" x2="339.21" y2="3.95" stroke="#303030" stroke-width="1.0" />
<line x1="343.23" y1="235.1" x2="343.23" y2="237.7" stroke="#303030" stroke-width="1.0" />
<line x1="343.23" y1="6.15" x2="343.23" y2="3.95" stroke="#303030" stroke-width="1.0" />
<line x1="347.25" y1="235.1" x2="347.25" y2="237.7" stroke="#303030" stroke-width="1.0" />
<line x1="347.25" y1="6.15" x2="347.25" y2="3.95" stroke="#303030" stroke-width="1.0" />
<line x1="351.26" y1="235.1" x2="351.26" y2="237.7" stroke="#303030" stroke-width="1.0" />
<line x1="351.26" y1="6.15" x2="351.26" y2="3.95" stroke="#303030" stroke-width="1.0" />
<line x1="355.27" y1="235.1" x2="355.27" y2="237.7" stroke="#303030" stroke-width="1.0" />
<line x1="355.27" y1="6.15" x2="355.27" y2="3.95" stroke="#303030" stroke-width="1.0" />
<line x1="359.29" y1="235.1" x2="359.29" y2="237.7" stroke="#303030" stroke-width="1.0" />
<line x1="359.29" y1="6.15" x2="359.29" y2="3.95" stroke="#303030" stroke-width="1.0" />
<line x1="363.31" y1="235.1" x2="363.31" y2="237.7" stroke="#303030" stroke-width="1.0" />
<line x1="363.31" y1="6.15" x2="363.31" y2="3.95" stroke="#303030" stroke-width="1.0" />
<line x1="367.32" y1="235.1" x2="367.32" y2="237.7" stroke="#303030" stroke-width="1.0" />
<line x1="367.32" y1="6.15" x2="367.32" y2="3.95" stroke="#303030" stroke-width="1.0" />
<line x1="371.33" y1="235.1" x2="371.33" y2="237.7" stroke="#303030" stroke-width="1.0" />
<line x1="371.33" y1="6.15" x2="371.33" y2="3.95" stroke="#303030" stroke-width="1.0" />
<line x1="375.35" y1="235.1" x2="375.35" y2="239.6" stroke="#303030" stroke-width="1.0" />
<line x1="375.35" y1="6.15" x2="375.35" y2="2.15" stroke="#303030" stroke-width="1.0" />
<line x1="379.37" y1="235.1" x2="379.37" y2="237.7" stroke="#303030" stroke-width="1.0" />
<line x1="379.37" y1="6.15" x2="379.37" y2="3.95" stroke="#303030" stroke-width="1.0" />
<line x1="383.38" y1="235.1" x2="383.38" y2="237.7" stroke="#303030" stroke-width="1.0" />
<line x1="383.38" y1="6.15" x2="383.38" y2="3.95" stroke="#303030" stroke-width="1.0" />
<line x1="387.39" y1="235.1" x2="387.39" y2="237.7" stroke="#303030" stroke-width="1.0" />
<line x1="387.39" y1="6.15" x2="387.39" y2="3.95" stroke="#303030" stroke-width="1.0" />
<line x1="391.41" y1="235.1" x2="391.41" y2="237.7" stroke="#303030" stroke-width="1.0" />
<line x1="391.41" y1="6.15" x2="391.41" y2="3.95" stroke="#303030" stroke-width="1.0" />
<line x1="395.42" y1="235.1" x2="395.42" y2="237.7" stroke="#303030" stroke-width="1.0" />
<line x1="395.42" y1="6.15" x2="395.42" y2="3.95" stroke="#303030" stroke-width="1.0" />
<line x1="399.44" y1="235.1" x2="399.44" y2="237.7" stroke="#303030" stroke-width="1.0" />
<line x1="399.44" y1="6.15" x2="399.44" y2="3.95" stroke="#303030" stroke-width="1.0" />
<line x1="403.45" y1="235.1" x2="403.45" y2="237.7" stroke="#303030" stroke-width="1.0" />
<line x1="403.45" y1="6.15" x2="403.45" y2="3.95" stroke="#303030" stroke-width="1.0" />
<line x1="407.47" y1="235.1" x2="407.47" y2="237.7" stroke="#303030" stroke-width="1.0" />
<line x1="407.47" y1="6.15" x2="407.47" y2="3.95" stroke="#303030" stroke-width="1.0" />
<line x1="411.49" y1="235.1" x2="411.49" y2="237.7" stroke="#303030" stroke-width="1.0" />
<line x1="411.49" y1="6.15" x2="411.49" y2="3.95" stroke="#303030" stroke-width="1.0" />
<line x1="415.5" y1="235.1" x2="415.5" y2="239.6" stroke="#303030" stroke-width="1.0" />
<line x1="415.5" y1="6.15" x2="415.5" y2="2.15" stroke="#303030" stroke-width="1.0" />
<line x1="419.51" y1="235.1" x2="419.51" y2="237.7" stroke="#303030" stroke-width="1.0" />
<line x1="419.51" y1="6.15" x2="419.51" y2="3.95" stroke="#303030" stroke-width="1.0" />
<line x1="423.53" y1="235.1" x2="423.53" y2="237.7" stroke="#303030" stroke-width="1.0" />
<line x1="423.53" y1="6.15" x2="423.53" y2="3.95" stroke="#303030" stroke-width="1.0" />
<line x1="427.54" y1="235.1" x2="427.54" y2="237.7" stroke="#303030" stroke-width="1.0" />
<line x1="427.54" y1="6.15" x2="427.54" y2="3.95" stroke="#303030" stroke-width="1.0" />
<line x1="431.56" y1="235.1" x2="431.56" y2="237.7" stroke="#303030" stroke-width="1.0" />
<line x1="431.56" y1="6.15" x2="431.56" y2="3.95" stroke="#303030" stroke-width="1.0" />
<line x1="435.57" y1="235.1" x2="435.57" y2="237.7" stroke="#303030" stroke-width="1.0" />
<line x1="435.57" y1="6.15" x2="435.57" y2="3.95" stroke="#303030" stroke-width="1.0" />
<line x1="439.59" y1="235.1" x2="439.59" y2="237.7" stroke="#303030" stroke-width="1.0" />
<line x1="439.59" y1="6.15" x2="439.59" y2="3.95" stroke="#303030" stroke-width="1.0" />
<line x1="443.6" y1="235.1" x2="443.6" y2="237.7" stroke="#303030" stroke-width="1.0" />
<line x1="443.6" y1="6.15" x2="443.6" y2="3.95" stroke="#303030" stroke-width="1.0" />
<line x1="447.62" y1="235.1" x2="447.62" y2="237.7" stroke="#303030" stroke-width="1.0" />
<line x1="447.62" y1="6.15" x2="447.62" y2="3.95" stroke="#303030" stroke-width="1.0" />
<line x1="451.63" y1="235.1" x2="451.63" y2="237.7" stroke="#303030" stroke-width="1.0" />
<line x1="451.63" y1="6.15" x2="451.63" y2="3.95" stroke="#303030" stroke-width="1.0" />
<line x1="455.65" y1="235.1" x2="455.65" y2="239.6" stroke="#303030" stroke-width="1.0" />
<line x1="455.65" y1="6.15" x2="455.65" y2="2.15" stroke="#303030" stroke-width="1.0" />
<line x1="459.66" y1="235.1" x2="459.66" y2="237.7" stroke="#303030" stroke-width="1.0" />
<line x1="459.66" y1="6.15" x2="459.66" y2="3.95" stroke="#303030" stroke-width="1.0" />
<line x1="463.68" y1="235.1" x2="463.68" y2="237.7" stroke="#303030" stroke-width="1.0" />
<line x1="463.68" y1="6.15" x2="463.68" y2="3.95" stroke="#303030" stroke-width="1.0" />
<line x1="467.69" y1="235.1" x2="467.69" y2="237.7" stroke="#303030" stroke-width="1.0" />
<line x1="467.69" y1="6.15" x2="467.69" y2="3.95" stroke="#303030" stroke-width="1.0" />
<line x1="471.71" y1="235.1" x2="471.71" y2="237.7" stroke="#303030" stroke-width="1.0" />
<line x1="471.71" y1="6.15" x2="471.71" y2="3.95" stroke="#303030" stroke-width="1.0" />
<line x1="475.72" y1="235.1" x2="475.72" y2="237.7" stroke="#303030" stroke-width="1.0" />
<line x1="475.72" y1="6.15" x2="475.72" y2="3.95" stroke="#303030" stroke-width="1.0" />
<line x1="479.74" y1="235.1" x2="479.74" y2="237.7" stroke="#303030" stroke-width="1.0" />
<line x1="479.74" y1="6.15" x2="479.74" y2="3.95" stroke="#303030" stroke-width="1.0" />
<line x1="483.75" y1="235.1" x2="483.75" y2="237.7" stroke="#303030" stroke-width="1.0" />
<line x1="483.75" y1="6.15" x2="483.75" y2="3.95" stroke="#303030" stroke-width="1.0" />
<line x1="487.77" y1="235.1" x2="487.77" y2="237.7" stroke="#303030" stroke-width="1.0" />
<line x1="487.77" y1="6.15" x2="487.77" y2="3.95" stroke="#303030" stroke-width="1.0" />
<line x1="491.78" y1="235.1" x2="491.78" y2="237.7" stroke="#303030" stroke-width="1.0" />
<line x1="491.78" y1="6.15" x2="491.78" y2="3.95" stroke="#303030" stroke-width="1.0" />
<line x1="495.8" y1="235.1" x2="495.8" y2="239.6" stroke="#303030" stroke-width="1.0" />
<line x1="495.8" y1="6.15" x2="495.8" y2="2.15" stroke="#303030" stroke-width="1.0" />
<line x1="499.81" y1="235.1" x2="499.81" y2="237.7" stroke="#303030" stroke-width="1.0" />
<line x1="499.81" y1="6.15" x2="499.81" y2="3.95" stroke="#303030" stroke-width="1.0" />
<line x1="293.4" y1="7.97" x2="290.2" y2="7.97" stroke="#303030" stroke-width="1.0" />
<line x1="501.35" y1="7.97" x2="504.55" y2="7.97" stroke="#303030" stroke-width="1.0" />
<line x1="293.4" y1="12.3" x2="287.4" y2="12.3" stroke="#303030" stroke-width="1.0" />
<line x1="501.35" y1="12.3" x2="507.35" y2="12.3" stroke="#303030" stroke-width="1.0" />
<line x1="293.4" y1="16.63" x2="290.2" y2="16.63" stroke="#303030" stroke-width="1.0" />
<line x1="501.35" y1="16.63" x2="504.55" y2="16.63" stroke="#303030" stroke-width="1.0" />
<line x1="293.4" y1="20.97" x2="290.2" y2="20.97" stroke="#303030" stroke-width="1.0" />
<line x1="501.35" y1="20.97" x2="504.55" y2="20.97" stroke="#303030" stroke-width="1.0" />
<line x1="293.4" y1="25.3" x2="290.2" y2="25.3" stroke="#303030" stroke-width="1.0" />
<line x1="501.35" y1="25.3" x2="504.55" y2="25.3" stroke="#303030" stroke-width="1.0" />
<line x1="293.4" y1="29.64" x2="290.2" y2="29.64" stroke="#303030" stroke-width="1.0" />
<line x1="501.35" y1="29.64" x2="504.55" y2="29.64" stroke="#303030" stroke-width="1.0" />
<line x1="293.4" y1="33.97" x2="290.2" y2="33.97" stroke="#303030" stroke-width="1.0" />
<line x1="501.35" y1="33.97" x2="504.55" y2="33.97" stroke="#303030" stroke-width="1.0" />
<line x1="293.4" y1="38.3" x2="290.2" y2="38.3" stroke="#303030" stroke-width="1.0" />
<line x1="501.35" y1="38.3" x2="504.55" y2="38.3" stroke="#303030" stroke-width="1.0" />
<line x1="293.4" y1="42.64" x2="290.2" y2="42.64" stroke="#303030" stroke-width="1.0" />
<line x1="501.35" y1="42.64" x2="504.55" y2="42.64" stroke="#303030" stroke-width="1.0" />
<line x1="293.4" y1="46.97" x2="290.2" y2="46.97" stroke="#303030" stroke-width="1.0" />
<line x1="501.35" y1="46.97" x2="504.55" y2="46.97" stroke="#303030" stroke-width="1.0" />
<line x1="293.4" y1="51.31" x2="290.2" y2="51.31" stroke="#303030" stroke-width="1.0" />
<line x1="501.35" y1="51.31" x2="504.55" y2="51.31" stroke="#303030" stroke-width="1.0" />
<line x1="293.4" y1="55.64" x2="287.4" y2="55.64" stroke="#303030" stroke-width="1.0" />
<line x1="501.35" y1="55.64" x2="507.35" y2="55.64" stroke="#303030" stroke-width="1.0" />
<line x1="293.4" y1="59.97" x2="290.2" y2="59.97" stroke="#303030" stroke-width="1.0" />
<line x1="501.35" y1="59.97" x2="504.55" y2="59.97" stroke="#303030" stroke-width="1.0" />
<line x1="293.4" y1="64.31" x2="290.2" y2="64.31" stroke="#303030" stroke-width="1.0" />
<line x1="501.35" y1="64.31" x2="504.55" y2="64.31" stroke="#303030" stroke-width="1.0" />
<line x1="293.4" y1="68.64" x2="290.2" y2="68.64" stroke="#303030" stroke-width="1.0" />
<line x1="501.35" y1="68.64" x2="504.55" y2="68.64" stroke="#303030" stroke-width="1.0" />
<line x1="293.4" y1="72.98" x2="290.2" y2="72.98" stroke="#303030" stroke-width="1.0" />
<line x1="501.35" y1="72.98" x2="504.55" y2="72.98" stroke="#303030" stroke-width="1.0" />
<line x1="293.4" y1="77.31" x2="290.2" y2="77.31" stroke="#303030" stroke-width="1.0" />
<line x1="501.35" y1="77.31" x2="504.55" y2="77.31" stroke="#303030" stroke-width="1.0" />
<line x1="293.4" y1="81.64" x2="290.2" y2="81.64" stroke="#303030" stroke-width="1.0" />
<line x1="501.35" y1="81.64" x2="504.55" y2="81.64" stroke="#303030" stroke-width="1.0" />
<line x1="293.4" y1="85.98" x2="290.2" y2="85.98" stroke="#303030" stroke-width="1.0" />
<line x1="501.35" y1="85.98" x2="504.55" y2="85.98" stroke="#303030" stroke-width="1.0" />
<line x1="293.4" y1="90.31" x2="290.2" y2="90.31" stroke="#303030" stroke-width="1.0" />
<line x1="501.35" y1="90.31" x2="504.55" y2="90.31" stroke="#303030" stroke-width="1.0" />
<line x1="293.4" y1="94.65" x2="290.2" y2="94.65" stroke="#303030" stroke-width="1.0" />
<line x1="501.35" y1="94.65" x2="504.55" y2="94.65" stroke="#303030" stroke-width="1.0" />
<line x1="293.4" y1="98.98" x2="287.4" y2="98.98" stroke="#303030" stroke-width="1.0" />
<line x1="501.35" y1="98.98" x2="507.35" y2="98.98" stroke="#303030" stroke-width="1.0" />
<line x1="293.4" y1="103.31" x2="290.2" y2="103.31" stroke="#303030" stroke-width="1.0" />
<line x1="501.35" y1="103.31" x2="504.55" y2="103.31" stroke="#303030" stroke-width="1.0" />
<line x1="293.4" y1="107.65" x2="290.2" y2="107.65" stroke="#303030" stroke-width="1.0" />
<line x1="501.35" y1="107.65" x2="504.55" y2="107.65" stroke="#303030" stroke-width="1.0" />
<line x1="293.4" y1="111.98" x2="290.2" y2="111.98" stroke="#303030" stroke-width="1.0" />
<line x1="501.35" y1="111.98" x2="504.55" y2="111.98" stroke="#303030" stroke-width="1.0" />
<line x1="293.4" y1="116.32" x2="290.2" y2="116.32" stroke="#303030" stroke-width="1.0" />
<line x1="501.35" y1="116.32" x2="504.55" y2="116.32" stroke="#303030" stroke-width="1.0" />
<line x1="293.4" y1="120.65" x2="290.2" y2="120.65" stroke="#303030" stroke-width="1.0" />
<line x1="501.35" y1="120.65" x2="504.55" y2="120.65" stroke="#303030" stroke-width="1.0" />
<line x1="293.4" y1="124.98" x2="290.2" y2="124.98" stroke="#303030" stroke-width="1.0" />
<line x1="501.35" y1="124.98" x2="504.55" y2="124.98" stroke="#303030" stroke-width="1.0" />
<line x1="293.4" y1="129.32" x2="290.2" y2="129.32" stroke="#303030" stroke-width="1.0" />
<line x1="501.35" y1="129.32" x2="504.55" y2="129.32" stroke="#303030" stroke-width="1.0" />
<line x1="293.4" y1="133.65" x2="290.2" y2="133.65" stroke="#303030" stroke-width="1.0" />
<line x1="501.35" y1="133.65" x2="504.55" y2="133.65" stroke="#303030" stroke-width="1.0" />
<line x1="293.4" y1="137.99" x2="290.2" y2="137.99" stroke="#303030" stroke-width="1.0" />
<line x1="501.35" y1="137.99" x2="504.55" y2="137.99" stroke="#303030" stroke-width="1.0" />
<line x1="293.4" y1="142.32" x2="287.4" y2="142.32" stroke="#303030" stroke-width="1.0" />
<line x1="501.35" y1="142.32" x2="507.35" y2="142.32" stroke="#303030" stroke-width="1.0" />
<line x1="293.4" y1="146.65" x2="290.2" y2="146.65" stroke="#303030" stroke-width="1.0" />
<line x1="501.35" y1="146.65" x2="504.55" y2="146.65" stroke="#303030" stroke-width="1.0" />
<line x1="293.4" y1="150.99" x2="290.2" y2="150.99" stroke="#303030" stroke-width="1.0" />
<line x1="501.35" y1="150.99" x2="504.55" y2="150.99" stroke="#303030" stroke-width="1.0" />
<line x1="293.4" y1="155.32" x2="290.2" y2="155.32" stroke="#303030" stroke-width="1.0" />
<line x1="501.35" y1="155.32" x2="504.55" y2="155.32" stroke="#303030" stroke-width="1.0" />
<line x1="293.4" y1="159.66" x2="290.2" y2="159.66" stroke="#303030" stroke-width="1.0" />
<line x1="501.35" y1="159.66" x2="504.55" y2="159.66" stroke="#303030" stroke-width="1.0" />
<line x1="293.4" y1="163.99" x2="290.2" y2="163.99" stroke="#303030" stroke-width="1.0" />
<line x1="501.35" y1="163.99" x2="504.55" y2="163.99" stroke="#303030" stroke-width="1.0" />
<line x1="293.4" y1="168.32" x2="290.2" y2="168.32" stroke="#303030" stroke-width="1.0" />
<line x1="501.35" y1="168.32" x2="504.55" y2="168.32" stroke="#303030" stroke-width="1.0" />
<line x1="293.4" y1="172.66" x2="290.2" y2="172.66" stroke="#303030" stroke-width="1.0" />
<line x1="501.35" y1="172.66" x2="504.55" y2="172.66" stroke="#303030" stroke-width="1.0" />
<line x1="293.4" y1="176.99" x2="290.2" y2="176.99" stroke="#303030" stroke-width="1.0" />
<line x1="501.35" y1="176.99" x2="504.55" y2="176.99" stroke="#303030" stroke-width="1.0" />
<line x1="293.4" y1="181.33" x2="290.2" y2="181.33" stroke="#303030" stroke-width="1.0" />
<line x1="501.35" y1="181.33" x2="504.55" y2="181.33" stroke="#303030" stroke-width="1.0" />
<line x1="293.4" y1="185.66" x2="287.4" y2="185.66" stroke="#303030" stroke-width="1.0" />
<line x1="501.35" y1="185.66" x2="507.35" y2="185.66" stroke="#303030" stroke-width="1.0" />
<line x1="293.4" y1="189.99" x2="290.2" y2="189.99" stroke="#303030" stroke-width="1.0" />
<line x1="501.35" y1="189.99" x2="504.55" y2="189.99" stroke="#303030" stroke-width="1.0" />
<line x1="293.4" y1="194.33" x2="290.2" y2="194.33" stroke="#303030" stroke-width="1.0" />
<line x1="501.35" y1="194.33" x2="504.55" y2="194.33" stroke="#303030" stroke-width="1.0" />
<line x1="293.4" y1="198.66" x2="290.2" y2="198.66" stroke="#303030" stroke-width="1.0" />
<line x1="501.35" y1="198.66" x2="504.55" y2="198.66" stroke="#303030" stroke-width="1.0" />
<line x1="293.4" y1="203" x2="290.2" y2="203" stroke="#303030" stroke-width="1.0" />
<line x1="501.35" y1="203" x2="504.55" y2="203" stroke="#303030" stroke-width="1.0" />
<line x1="293.4" y1="207.33" x2="290.2" y2="207.33" stroke="#303030" stroke-width="1.0" />
<line x1="501.35" y1="207.33" x2="504.55" y2="207.33" stroke="#303030" stroke-width="1.0" />
<line x1="293.4" y1="211.66" x2="290.2" y2="211.66" stroke="#303030" stroke-width="1.0" />
<line x1="501.35" y1="211.66" x2="504.55" y2="211.66" stroke="#303030" stroke-width="1.0" />
<line x1="293.4" y1="216" x2="290.2" y2="216" stroke="#303030" stroke-width="1.0" />
<line x1="501.35" y1="216" x2="504.55" y2="216" stroke="#303030" stroke-width="1.0" />
<line x1="293.4" y1="220.33" x2="290.2" y2="220.33" stroke="#303030" stroke-width="1.0" />
<line x1="501.35" y1="220.33" x2="504.55" y2="220.33" stroke="#303030" stroke-width="1.0" />
<line x1="293.4" y1="224.67" x2="290.2" y2="224.67" stroke="#303030" stroke-width="1.0" />
<line x1="501.35" y1="224.67" x2="504.55" y2="224.67" stroke="#303030" stroke-width="1.0" />
<line x1="293.4" y1="229" x2="287.4" y2="229" stroke="#303030" stroke-width="1.0" />
<line x1="501.35" y1="229" x2="507.35" y2="229" stroke="#303030" stroke-width="1.0" />
<line x1="293.4" y1="233.33" x2="290.2" y2="233.33" stroke="#303030" stroke-width="1.0" />
<line x1="501.35" y1="233.33" x2="504.55" y2="233.33" stroke="#303030" stroke-width="1.0" />
<text x="335.2" y="252.3" font-size="12.5" stroke="#1a1a1a" stroke-width="0.3" font-weight="bold" text-anchor="middle" textLength="16.4" lengthAdjust="spacingAndGlyphs" fill="#1a1a1a">380</text>
<text x="375.35" y="252.3" font-size="12.5" stroke="#1a1a1a" stroke-width="0.3" font-weight="bold" text-anchor="middle" textLength="16.4" lengthAdjust="spacingAndGlyphs" fill="#1a1a1a">390</text>
<text x="415.5" y="252.3" font-size="12.5" stroke="#1a1a1a" stroke-width="0.3" font-weight="bold" text-anchor="middle" textLength="16.4" lengthAdjust="spacingAndGlyphs" fill="#1a1a1a">400</text>
<text x="455.65" y="252.3" font-size="12.5" stroke="#1a1a1a" stroke-width="0.3" font-weight="bold" text-anchor="middle" textLength="16.4" lengthAdjust="spacingAndGlyphs" fill="#1a1a1a">410</text>
<text x="495.8" y="252.3" font-size="12.5" stroke="#1a1a1a" stroke-width="0.3" font-weight="bold" text-anchor="middle" textLength="16.4" lengthAdjust="spacingAndGlyphs" fill="#1a1a1a">420</text>
<text x="363.6" y="270.2" font-size="13" stroke="#1a1a1a" stroke-width="0.3" font-weight="bold" textLength="89.4" lengthAdjust="spacingAndGlyphs" fill="#1a1a1a">Raman Shift (cm<tspan font-size="8" dy="-5.5">-1</tspan><tspan dy="5.5">)</tspan></text>
<text x="298.3" y="16.8" font-size="9.6" stroke="#1a1a1a" stroke-width="0.3" textLength="142" lengthAdjust="spacingAndGlyphs" fill="#1a1a1a">MoS<tspan font-size="6.5" dy="2">2</tspan><tspan dy="-2"> film on sapphire substrate</tspan></text>
<text x="480.8" y="19.9" font-size="17.2" stroke="#1a1a1a" stroke-width="0.3" font-weight="bold" textLength="19.2" lengthAdjust="spacingAndGlyphs" fill="#1a1a1a">(b)</text>
<line x1="301" y1="29" x2="318.6" y2="29" stroke="#262626" stroke-width="1.5" />
<text x="322.9" y="32.6" font-size="10.2" stroke="#1a1a1a" stroke-width="0.3" fill="#1a1a1a">2.8 nm</text>
<line x1="301" y1="40.35" x2="318.6" y2="40.35" stroke="#3c8c50" stroke-width="1.5" />
<text x="322.9" y="43.95" font-size="10.2" stroke="#1a1a1a" stroke-width="0.3" fill="#1a1a1a">7 nm</text>
<line x1="301" y1="51.7" x2="318.6" y2="51.7" stroke="#c246b9" stroke-width="1.5" />
<text x="322.9" y="55.3" font-size="10.2" stroke="#1a1a1a" stroke-width="0.3" fill="#1a1a1a">bulk</text>
<rect x="48.1" y="282.3" width="218" height="252.1" fill="none" stroke="#303030" stroke-width="1.1"/>
<line x1="51" y1="534.4" x2="51" y2="537.4" stroke="#303030" stroke-width="1.0" />
<line x1="51" y1="282.3" x2="51" y2="279.3" stroke="#303030" stroke-width="1.0" />
<line x1="66.14" y1="534.4" x2="66.14" y2="538.9" stroke="#303030" stroke-width="1.0" />
<line x1="66.14" y1="282.3" x2="66.14" y2="277.8" stroke="#303030" stroke-width="1.0" />
<line x1="81.27" y1="534.4" x2="81.27" y2="537.4" stroke="#303030" stroke-width="1.0" />
<line x1="81.27" y1="282.3" x2="81.27" y2="279.3" stroke="#303030" stroke-width="1.0" />
<line x1="96.41" y1="534.4" x2="96.41" y2="538.9" stroke="#303030" stroke-width="1.0" />
<line x1="96.41" y1="282.3" x2="96.41" y2="277.8" stroke="#303030" stroke-width="1.0" />
<line x1="111.54" y1="534.4" x2="111.54" y2="537.4" stroke="#303030" stroke-width="1.0" />
<line x1="111.54" y1="282.3" x2="111.54" y2="279.3" stroke="#303030" stroke-width="1.0" />
<line x1="126.68" y1="534.4" x2="126.68" y2="538.9" stroke="#303030" stroke-width="1.0" />
<line x1="126.68" y1="282.3" x2="126.68" y2="277.8" stroke="#303030" stroke-width="1.0" />
<line x1="141.82" y1="534.4" x2="141.82" y2="537.4" stroke="#303030" stroke-width="1.0" />
<line x1="141.82" y1="282.3" x2="141.82" y2="279.3" stroke="#303030" stroke-width="1.0" />
<line x1="156.95" y1="534.4" x2="156.95" y2="538.9" stroke="#303030" stroke-width="1.0" />
<line x1="156.95" y1="282.3" x2="156.95" y2="277.8" stroke="#303030" stroke-width="1.0" />
<line x1="172.09" y1="534.4" x2="172.09" y2="537.4" stroke="#303030" stroke-width="1.0" />
<line x1="172.09" y1="282.3" x2="172.09" y2="279.3" stroke="#303030" stroke-width="1.0" />
<line x1="187.22" y1="534.4" x2="187.22" y2="538.9" stroke="#303030" stroke-width="1.0" />
<line x1="187.22" y1="282.3" x2="187.22" y2="277.8" stroke="#303030" stroke-width="1.0" />
<line x1="202.36" y1="534.4" x2="202.36" y2="537.4" stroke="#303030" stroke-width="1.0" />
<line x1="202.36" y1="282.3" x2="202.36" y2="279.3" stroke="#303030" stroke-width="1.0" />
<line x1="217.5" y1="534.4" x2="217.5" y2="538.9" stroke="#303030" stroke-width="1.0" />
<line x1="217.5" y1="282.3" x2="217.5" y2="277.8" stroke="#303030" stroke-width="1.0" />
<line x1="232.63" y1="534.4" x2="232.63" y2="537.4" stroke="#303030" stroke-width="1.0" />
<line x1="232.63" y1="282.3" x2="232.63" y2="279.3" stroke="#303030" stroke-width="1.0" />
<line x1="247.77" y1="534.4" x2="247.77" y2="538.9" stroke="#303030" stroke-width="1.0" />
<line x1="247.77" y1="282.3" x2="247.77" y2="277.8" stroke="#303030" stroke-width="1.0" />
<line x1="262.9" y1="534.4" x2="262.9" y2="537.4" stroke="#303030" stroke-width="1.0" />
<line x1="262.9" y1="282.3" x2="262.9" y2="279.3" stroke="#303030" stroke-width="1.0" />
<line x1="48.1" y1="531.2" x2="43.1" y2="531.2" stroke="#303030" stroke-width="1.0" />
<line x1="266.1" y1="531.2" x2="271.1" y2="531.2" stroke="#303030" stroke-width="1.0" />
<line x1="48.1" y1="522.72" x2="45.3" y2="522.72" stroke="#303030" stroke-width="1.0" />
<line x1="266.1" y1="522.72" x2="268.9" y2="522.72" stroke="#303030" stroke-width="1.0" />
<line x1="48.1" y1="514.24" x2="45.3" y2="514.24" stroke="#303030" stroke-width="1.0" />
<line x1="266.1" y1="514.24" x2="268.9" y2="514.24" stroke="#303030" stroke-width="1.0" />
<line x1="48.1" y1="505.76" x2="45.3" y2="505.76" stroke="#303030" stroke-width="1.0" />
<line x1="266.1" y1="505.76" x2="268.9" y2="505.76" stroke="#303030" stroke-width="1.0" />
<line x1="48.1" y1="497.28" x2="45.3" y2="497.28" stroke="#303030" stroke-width="1.0" />
<line x1="266.1" y1="497.28" x2="268.9" y2="497.28" stroke="#303030" stroke-width="1.0" />
<line x1="48.1" y1="488.8" x2="43.1" y2="488.8" stroke="#303030" stroke-width="1.0" />
<line x1="266.1" y1="488.8" x2="271.1" y2="488.8" stroke="#303030" stroke-width="1.0" />
<line x1="48.1" y1="480.32" x2="45.3" y2="480.32" stroke="#303030" stroke-width="1.0" />
<line x1="266.1" y1="480.32" x2="268.9" y2="480.32" stroke="#303030" stroke-width="1.0" />
<line x1="48.1" y1="471.84" x2="45.3" y2="471.84" stroke="#303030" stroke-width="1.0" />
<line x1="266.1" y1="471.84" x2="268.9" y2="471.84" stroke="#303030" stroke-width="1.0" />
<line x1="48.1" y1="463.36" x2="45.3" y2="463.36" stroke="#303030" stroke-width="1.0" />
<line x1="266.1" y1="463.36" x2="268.9" y2="463.36" stroke="#303030" stroke-width="1.0" />
<line x1="48.1" y1="454.88" x2="45.3" y2="454.88" stroke="#303030" stroke-width="1.0" />
<line x1="266.1" y1="454.88" x2="268.9" y2="454.88" stroke="#303030" stroke-width="1.0" />
<line x1="48.1" y1="446.4" x2="43.1" y2="446.4" stroke="#303030" stroke-width="1.0" />
<line x1="266.1" y1="446.4" x2="271.1" y2="446.4" stroke="#303030" stroke-width="1.0" />
<line x1="48.1" y1="437.92" x2="45.3" y2="437.92" stroke="#303030" stroke-width="1.0" />
<line x1="266.1" y1="437.92" x2="268.9" y2="437.92" stroke="#303030" stroke-width="1.0" />
<line x1="48.1" y1="429.44" x2="45.3" y2="429.44" stroke="#303030" stroke-width="1.0" />
<line x1="266.1" y1="429.44" x2="268.9" y2="429.44" stroke="#303030" stroke-width="1.0" />
<line x1="48.1" y1="420.96" x2="45.3" y2="420.96" stroke="#303030" stroke-width="1.0" />
<line x1="266.1" y1="420.96" x2="268.9" y2="420.96" stroke="#303030" stroke-width="1.0" />
<line x1="48.1" y1="412.48" x2="45.3" y2="412.48" stroke="#303030" stroke-width="1.0" />
<line x1="266.1" y1="412.48" x2="268.9" y2="412.48" stroke="#303030" stroke-width="1.0" />
<line x1="48.1" y1="404" x2="43.1" y2="404" stroke="#303030" stroke-width="1.0" />
<line x1="266.1" y1="404" x2="271.1" y2="404" stroke="#303030" stroke-width="1.0" />
<line x1="48.1" y1="395.52" x2="45.3" y2="395.52" stroke="#303030" stroke-width="1.0" />
<line x1="266.1" y1="395.52" x2="268.9" y2="395.52" stroke="#303030" stroke-width="1.0" />
<line x1="48.1" y1="387.04" x2="45.3" y2="387.04" stroke="#303030" stroke-width="1.0" />
<line x1="266.1" y1="387.04" x2="268.9" y2="387.04" stroke="#303030" stroke-width="1.0" />
<line x1="48.1" y1="378.56" x2="45.3" y2="378.56" stroke="#303030" stroke-width="1.0" />
<line x1="266.1" y1="378.56" x2="268.9" y2="378.56" stroke="#303030" stroke-width="1.0" />
<line x1="48.1" y1="370.08" x2="45.3" y2="370.08" stroke="#303030" stroke-width="1.0" />
<line x1="266.1" y1="370.08" x2="268.9" y2="370.08" stroke="#303030" stroke-width="1.0" />
<line x1="48.1" y1="361.6" x2="43.1" y2="361.6" stroke="#303030" stroke-width="1.0" />
<line x1="266.1" y1="361.6" x2="271.1" y2="361.6" stroke="#303030" stroke-width="1.0" />
<line x1="48.1" y1="353.12" x2="45.3" y2="353.12" stroke="#303030" stroke-width="1.0" />
<line x1="266.1" y1="353.12" x2="268.9" y2="353.12" stroke="#303030" stroke-width="1.0" />
<line x1="48.1" y1="344.64" x2="45.3" y2="344.64" stroke="#303030" stroke-width="1.0" />
<line x1="266.1" y1="344.64" x2="268.9" y2="344.64" stroke="#303030" stroke-width="1.0" />
<line x1="48.1" y1="336.16" x2="45.3" y2="336.16" stroke="#303030" stroke-width="1.0" />
<line x1="266.1" y1="336.16" x2="268.9" y2="336.16" stroke="#303030" stroke-width="1.0" />
<line x1="48.1" y1="327.68" x2="45.3" y2="327.68" stroke="#303030" stroke-width="1.0" />
<line x1="266.1" y1="327.68" x2="268.9" y2="327.68" stroke="#303030" stroke-width="1.0" />
<line x1="48.1" y1="319.2" x2="43.1" y2="319.2" stroke="#303030" stroke-width="1.0" />
<line x1="266.1" y1="319.2" x2="271.1" y2="319.2" stroke="#303030" stroke-width="1.0" />
<line x1="48.1" y1="310.72" x2="45.3" y2="310.72" stroke="#303030" stroke-width="1.0" />
<line x1="266.1" y1="310.72" x2="268.9" y2="310.72" stroke="#303030" stroke-width="1.0" />
<line x1="48.1" y1="302.24" x2="45.3" y2="302.24" stroke="#303030" stroke-width="1.0" />
<line x1="266.1" y1="302.24" x2="268.9" y2="302.24" stroke="#303030" stroke-width="1.0" />
<line x1="48.1" y1="293.76" x2="45.3" y2="293.76" stroke="#303030" stroke-width="1.0" />
<line x1="266.1" y1="293.76" x2="268.9" y2="293.76" stroke="#303030" stroke-width="1.0" />
<line x1="48.1" y1="285.28" x2="45.3" y2="285.28" stroke="#303030" stroke-width="1.0" />
<line x1="266.1" y1="285.28" x2="268.9" y2="285.28" stroke="#303030" stroke-width="1.0" />
<text x="39.7" y="535.4" font-size="12" stroke="#1a1a1a" stroke-width="0.3" font-weight="bold" text-anchor="end" textLength="19.6" lengthAdjust="spacingAndGlyphs" fill="#1a1a1a">380</text>
<text x="39.7" y="493" font-size="12" stroke="#1a1a1a" stroke-width="0.3" font-weight="bold" text-anchor="end" textLength="19.6" lengthAdjust="spacingAndGlyphs" fill="#1a1a1a">385</text>
<text x="39.7" y="450.6" font-size="12" stroke="#1a1a1a" stroke-width="0.3" font-weight="bold" text-anchor="end" textLength="19.6" lengthAdjust="spacingAndGlyphs" fill="#1a1a1a">390</text>
<text x="39.7" y="408.2" font-size="12" stroke="#1a1a1a" stroke-width="0.3" font-weight="bold" text-anchor="end" textLength="19.6" lengthAdjust="spacingAndGlyphs" fill="#1a1a1a">395</text>
<text x="39.7" y="365.8" font-size="12" stroke="#1a1a1a" stroke-width="0.3" font-weight="bold" text-anchor="end" textLength="19.6" lengthAdjust="spacingAndGlyphs" fill="#1a1a1a">400</text>
<text x="39.7" y="323.4" font-size="12" stroke="#1a1a1a" stroke-width="0.3" font-weight="bold" text-anchor="end" textLength="19.6" lengthAdjust="spacingAndGlyphs" fill="#1a1a1a">405</text>
<text x="66.14" y="555.6" font-size="12" stroke="#1a1a1a" stroke-width="0.3" font-weight="bold" text-anchor="middle" textLength="6.5" lengthAdjust="spacingAndGlyphs" fill="#1a1a1a">2</text>
<text x="96.41" y="555.6" font-size="12" stroke="#1a1a1a" stroke-width="0.3" font-weight="bold" text-anchor="middle" textLength="6.5" lengthAdjust="spacingAndGlyphs" fill="#1a1a1a">4</text>
<text x="126.68" y="555.6" font-size="12" stroke="#1a1a1a" stroke-width="0.3" font-weight="bold" text-anchor="middle" textLength="6.5" lengthAdjust="spacingAndGlyphs" fill="#1a1a1a">6</text>
<text x="156.95" y="555.6" font-size="12" stroke="#1a1a1a" stroke-width="0.3" font-weight="bold" text-anchor="middle" textLength="6.5" lengthAdjust="spacingAndGlyphs" fill="#1a1a1a">8</text>
<text x="187.22" y="555.6" font-size="12" stroke="#1a1a1a" stroke-width="0.3" font-weight="bold" text-anchor="middle" textLength="13" lengthAdjust="spacingAndGlyphs" fill="#1a1a1a">10</text>
<text x="217.5" y="555.6" font-size="12" stroke="#1a1a1a" stroke-width="0.3" font-weight="bold" text-anchor="middle" textLength="13" lengthAdjust="spacingAndGlyphs" fill="#1a1a1a">12</text>
<text x="247.77" y="555.6" font-size="12" stroke="#1a1a1a" stroke-width="0.3" font-weight="bold" text-anchor="middle" textLength="13" lengthAdjust="spacingAndGlyphs" fill="#1a1a1a">14</text>
<text x="59.8" y="571.9" font-size="13.5" stroke="#1a1a1a" stroke-width="0.3" font-weight="bold" textLength="194.3" lengthAdjust="spacingAndGlyphs" fill="#1a1a1a">Different&#160; spot of the film surface</text>
<text x="0" y="0" font-size="12.2" stroke="#1a1a1a" stroke-width="0.3" font-weight="bold" textLength="174.5" lengthAdjust="spacingAndGlyphs" fill="#1a1a1a" transform="translate(15.4,484.3) rotate(-90)">Raman Peak position (cm<tspan font-size="8" dy="-7"> -1)</tspan></text>
<text x="241.3" y="298.6" font-size="19" stroke="#1a1a1a" stroke-width="0.3" font-weight="bold" textLength="21.5" lengthAdjust="spacingAndGlyphs" fill="#1a1a1a">(c)</text>
<text x="57.8" y="451.3" font-size="14" stroke="#1a1a1a" stroke-width="0.3" textLength="33" lengthAdjust="spacingAndGlyphs" fill="#1a1a1a">Al<tspan font-size="9.8" dy="4.2">2</tspan><tspan dy="-4.2">O</tspan><tspan font-size="9.8" dy="4.2">3</tspan></text>
<path d="M51,312.01 L53.3,316.38 L48.7,316.38Z" fill="#8e1a6c"/>
<path d="M49,489.3L53,493.3M53,489.3L49,493.3M51,488.9L51,493.7M48.6,491.3L53.4,491.3" stroke="#1a1f6e" stroke-width="1.3" fill="none"/>
<path d="M66.14,312.31 L68.44,316.69 L63.84,316.69Z" fill="#8e1a6c"/>
<path d="M64.14,489.3L68.14,493.3M68.14,489.3L64.14,493.3M66.14,488.9L66.14,493.7M63.74,491.3L68.54,491.3" stroke="#1a1f6e" stroke-width="1.3" fill="none"/>
<path d="M81.27,311.71 L83.57,316.08 L78.97,316.08Z" fill="#8e1a6c"/>
<path d="M79.27,489.9L83.27,493.9M83.27,489.9L79.27,493.9M81.27,489.5L81.27,494.3M78.87,491.9L83.67,491.9" stroke="#1a1f6e" stroke-width="1.3" fill="none"/>
<path d="M96.41,312.51 L98.71,316.88 L94.11,316.88Z" fill="#8e1a6c"/>
<path d="M94.41,489.3L98.41,493.3M98.41,489.3L94.41,493.3M96.41,488.9L96.41,493.7M94.01,491.3L98.81,491.3" stroke="#1a1f6e" stroke-width="1.3" fill="none"/>
<path d="M111.54,311.31 L113.84,315.69 L109.24,315.69Z" fill="#8e1a6c"/>
<path d="M109.54,489.7L113.54,493.7M113.54,489.7L109.54,493.7M111.54,489.3L111.54,494.1M109.14,491.7L113.94,491.7" stroke="#1a1f6e" stroke-width="1.3" fill="none"/>
<path d="M126.68,313.01 L128.98,317.38 L124.38,317.38Z" fill="#8e1a6c"/>
<path d="M124.68,489L128.68,493M128.68,489L124.68,493M126.68,488.6L126.68,493.4M124.28,491L129.08,491" stroke="#1a1f6e" stroke-width="1.3" fill="none"/>
<path d="M141.82,311.31 L144.12,315.69 L139.52,315.69Z" fill="#8e1a6c"/>
<path d="M139.82,490.2L143.82,494.2M143.82,490.2L139.82,494.2M141.82,489.8L141.82,494.6M139.42,492.2L144.22,492.2" stroke="#1a1f6e" stroke-width="1.3" fill="none"/>
<path d="M156.95,312.81 L159.25,317.19 L154.65,317.19Z" fill="#8e1a6c"/>
<path d="M154.95,488.8L158.95,492.8M158.95,488.8L154.95,492.8M156.95,488.4L156.95,493.2M154.55,490.8L159.35,490.8" stroke="#1a1f6e" stroke-width="1.3" fill="none"/>
<path d="M172.09,311.81 L174.39,316.19 L169.79,316.19Z" fill="#8e1a6c"/>
<path d="M170.09,489.9L174.09,493.9M174.09,489.9L170.09,493.9M172.09,489.5L172.09,494.3M169.69,491.9L174.49,491.9" stroke="#1a1f6e" stroke-width="1.3" fill="none"/>
<path d="M187.22,311.01 L189.52,315.38 L184.92,315.38Z" fill="#8e1a6c"/>
<path d="M185.22,488.8L189.22,492.8M189.22,488.8L185.22,492.8M187.22,488.4L187.22,493.2M184.82,490.8L189.62,490.8" stroke="#1a1f6e" stroke-width="1.3" fill="none"/>
<path d="M202.36,311.81 L204.66,316.19 L200.06,316.19Z" fill="#8e1a6c"/>
<path d="M200.36,490.2L204.36,494.2M204.36,490.2L200.36,494.2M202.36,489.8L202.36,494.6M199.96,492.2L204.76,492.2" stroke="#1a1f6e" stroke-width="1.3" fill="none"/>
<path d="M217.5,312.12 L219.8,316.49 L215.2,316.49Z" fill="#8e1a6c"/>
<path d="M215.5,489L219.5,493M219.5,489L215.5,493M217.5,488.6L217.5,493.4M215.1,491L219.9,491" stroke="#1a1f6e" stroke-width="1.3" fill="none"/>
<path d="M232.63,310.62 L234.93,314.99 L230.33,314.99Z" fill="#8e1a6c"/>
<path d="M230.63,489.7L234.63,493.7M234.63,489.7L230.63,493.7M232.63,489.3L232.63,494.1M230.23,491.7L235.03,491.7" stroke="#1a1f6e" stroke-width="1.3" fill="none"/>
<path d="M247.77,312.42 L250.07,316.79 L245.47,316.79Z" fill="#8e1a6c"/>
<path d="M245.77,488.8L249.77,492.8M249.77,488.8L245.77,492.8M247.77,488.4L247.77,493.2M245.37,490.8L250.17,490.8" stroke="#1a1f6e" stroke-width="1.3" fill="none"/>
<path d="M262.9,311.81 L265.2,316.19 L260.6,316.19Z" fill="#8e1a6c"/>
<path d="M260.9,490.2L264.9,494.2M264.9,490.2L260.9,494.2M262.9,489.8L262.9,494.6M260.5,492.2L265.3,492.2" stroke="#1a1f6e" stroke-width="1.3" fill="none"/>
<path d="M56.5,354.5L62.1,360.1M62.1,354.5L56.5,360.1M59.3,353.94L59.3,360.66M55.94,357.3L62.66,357.3" stroke="#283090" stroke-width="1.3" fill="none"/>
<path d="M59.2,368.26 L62.5,374.53 L55.9,374.53Z" fill="#b0147f"/>
<text x="76" y="360.8" font-size="10.6" stroke="#1a1a1a" stroke-width="0.3" fill="#1a1a1a">E<tspan font-size="6" dy="-7.5">1</tspan><tspan font-size="4.8" dy="10.5"> 2g</tspan></text>
<text x="75.6" y="374.6" font-size="10.4" stroke="#1a1a1a" stroke-width="0.3" fill="#1a1a1a">A<tspan font-size="8.4" dy="3.2">  1g</tspan></text>
<rect x="333.5" y="281.8" width="181" height="136.1" fill="none" stroke="#3a3a3a" stroke-width="1.1"/>
<rect x="333.5" y="420.5" width="181" height="133.9" fill="none" stroke="#3a3a3a" stroke-width="1.1"/>
<line x1="333.5" y1="284.1" x2="329" y2="284.1" stroke="#303030" stroke-width="1.0" />
<line x1="514.5" y1="284.1" x2="519" y2="284.1" stroke="#303030" stroke-width="1.0" />
<line x1="333.5" y1="286.72" x2="331.2" y2="286.72" stroke="#303030" stroke-width="1.0" />
<line x1="514.5" y1="286.72" x2="516.8" y2="286.72" stroke="#303030" stroke-width="1.0" />
<line x1="333.5" y1="289.35" x2="331.2" y2="289.35" stroke="#303030" stroke-width="1.0" />
<line x1="514.5" y1="289.35" x2="516.8" y2="289.35" stroke="#303030" stroke-width="1.0" />
<line x1="333.5" y1="291.97" x2="331.2" y2="291.97" stroke="#303030" stroke-width="1.0" />
<line x1="514.5" y1="291.97" x2="516.8" y2="291.97" stroke="#303030" stroke-width="1.0" />
<line x1="333.5" y1="294.59" x2="331.2" y2="294.59" stroke="#303030" stroke-width="1.0" />
<line x1="514.5" y1="294.59" x2="516.8" y2="294.59" stroke="#303030" stroke-width="1.0" />
<line x1="333.5" y1="297.21" x2="331.2" y2="297.21" stroke="#303030" stroke-width="1.0" />
<line x1="514.5" y1="297.21" x2="516.8" y2="297.21" stroke="#303030" stroke-width="1.0" />
<line x1="333.5" y1="299.84" x2="331.2" y2="299.84" stroke="#303030" stroke-width="1.0" />
<line x1="514.5" y1="299.84" x2="516.8" y2="299.84" stroke="#303030" stroke-width="1.0" />
<line x1="333.5" y1="302.46" x2="331.2" y2="302.46" stroke="#303030" stroke-width="1.0" />
<line x1="514.5" y1="302.46" x2="516.8" y2="302.46" stroke="#303030" stroke-width="1.0" />
<line x1="333.5" y1="305.08" x2="329" y2="305.08" stroke="#303030" stroke-width="1.0" />
<line x1="514.5" y1="305.08" x2="519" y2="305.08" stroke="#303030" stroke-width="1.0" />
<line x1="333.5" y1="307.7" x2="331.2" y2="307.7" stroke="#303030" stroke-width="1.0" />
<line x1="514.5" y1="307.7" x2="516.8" y2="307.7" stroke="#303030" stroke-width="1.0" />
<line x1="333.5" y1="310.33" x2="331.2" y2="310.33" stroke="#303030" stroke-width="1.0" />
<line x1="514.5" y1="310.33" x2="516.8" y2="310.33" stroke="#303030" stroke-width="1.0" />
<line x1="333.5" y1="312.95" x2="331.2" y2="312.95" stroke="#303030" stroke-width="1.0" />
<line x1="514.5" y1="312.95" x2="516.8" y2="312.95" stroke="#303030" stroke-width="1.0" />
<line x1="333.5" y1="315.57" x2="331.2" y2="315.57" stroke="#303030" stroke-width="1.0" />
<line x1="514.5" y1="315.57" x2="516.8" y2="315.57" stroke="#303030" stroke-width="1.0" />
<line x1="333.5" y1="318.19" x2="331.2" y2="318.19" stroke="#303030" stroke-width="1.0" />
<line x1="514.5" y1="318.19" x2="516.8" y2="318.19" stroke="#303030" stroke-width="1.0" />
<line x1="333.5" y1="320.81" x2="331.2" y2="320.81" stroke="#303030" stroke-width="1.0" />
<line x1="514.5" y1="320.81" x2="516.8" y2="320.81" stroke="#303030" stroke-width="1.0" />
<line x1="333.5" y1="323.44" x2="331.2" y2="323.44" stroke="#303030" stroke-width="1.0" />
<line x1="514.5" y1="323.44" x2="516.8" y2="323.44" stroke="#303030" stroke-width="1.0" />
<line x1="333.5" y1="326.06" x2="329" y2="326.06" stroke="#303030" stroke-width="1.0" />
<line x1="514.5" y1="326.06" x2="519" y2="326.06" stroke="#303030" stroke-width="1.0" />
<line x1="333.5" y1="328.68" x2="331.2" y2="328.68" stroke="#303030" stroke-width="1.0" />
<line x1="514.5" y1="328.68" x2="516.8" y2="328.68" stroke="#303030" stroke-width="1.0" />
<line x1="333.5" y1="331.3" x2="331.2" y2="331.3" stroke="#303030" stroke-width="1.0" />
<line x1="514.5" y1="331.3" x2="516.8" y2="331.3" stroke="#303030" stroke-width="1.0" />
<line x1="333.5" y1="333.93" x2="331.2" y2="333.93" stroke="#303030" stroke-width="1.0" />
<line x1="514.5" y1="333.93" x2="516.8" y2="333.93" stroke="#303030" stroke-width="1.0" />
<line x1="333.5" y1="336.55" x2="331.2" y2="336.55" stroke="#303030" stroke-width="1.0" />
<line x1="514.5" y1="336.55" x2="516.8" y2="336.55" stroke="#303030" stroke-width="1.0" />
<line x1="333.5" y1="339.17" x2="331.2" y2="339.17" stroke="#303030" stroke-width="1.0" />
<line x1="514.5" y1="339.17" x2="516.8" y2="339.17" stroke="#303030" stroke-width="1.0" />
<line x1="333.5" y1="341.8" x2="331.2" y2="341.8" stroke="#303030" stroke-width="1.0" />
<line x1="514.5" y1="341.8" x2="516.8" y2="341.8" stroke="#303030" stroke-width="1.0" />
<line x1="333.5" y1="344.42" x2="331.2" y2="344.42" stroke="#303030" stroke-width="1.0" />
<line x1="514.5" y1="344.42" x2="516.8" y2="344.42" stroke="#303030" stroke-width="1.0" />
<line x1="333.5" y1="347.04" x2="329" y2="347.04" stroke="#303030" stroke-width="1.0" />
<line x1="514.5" y1="347.04" x2="519" y2="347.04" stroke="#303030" stroke-width="1.0" />
<line x1="333.5" y1="349.66" x2="331.2" y2="349.66" stroke="#303030" stroke-width="1.0" />
<line x1="514.5" y1="349.66" x2="516.8" y2="349.66" stroke="#303030" stroke-width="1.0" />
<line x1="333.5" y1="352.29" x2="331.2" y2="352.29" stroke="#303030" stroke-width="1.0" />
<line x1="514.5" y1="352.29" x2="516.8" y2="352.29" stroke="#303030" stroke-width="1.0" />
<line x1="333.5" y1="354.91" x2="331.2" y2="354.91" stroke="#303030" stroke-width="1.0" />
<line x1="514.5" y1="354.91" x2="516.8" y2="354.91" stroke="#303030" stroke-width="1.0" />
<line x1="333.5" y1="357.53" x2="331.2" y2="357.53" stroke="#303030" stroke-width="1.0" />
<line x1="514.5" y1="357.53" x2="516.8" y2="357.53" stroke="#303030" stroke-width="1.0" />
<line x1="333.5" y1="360.15" x2="331.2" y2="360.15" stroke="#303030" stroke-width="1.0" />
<line x1="514.5" y1="360.15" x2="516.8" y2="360.15" stroke="#303030" stroke-width="1.0" />
<line x1="333.5" y1="362.78" x2="331.2" y2="362.78" stroke="#303030" stroke-width="1.0" />
<line x1="514.5" y1="362.78" x2="516.8" y2="362.78" stroke="#303030" stroke-width="1.0" />
<line x1="333.5" y1="365.4" x2="331.2" y2="365.4" stroke="#303030" stroke-width="1.0" />
<line x1="514.5" y1="365.4" x2="516.8" y2="365.4" stroke="#303030" stroke-width="1.0" />
<line x1="333.5" y1="368.02" x2="329" y2="368.02" stroke="#303030" stroke-width="1.0" />
<line x1="514.5" y1="368.02" x2="519" y2="368.02" stroke="#303030" stroke-width="1.0" />
<line x1="333.5" y1="370.64" x2="331.2" y2="370.64" stroke="#303030" stroke-width="1.0" />
<line x1="514.5" y1="370.64" x2="516.8" y2="370.64" stroke="#303030" stroke-width="1.0" />
<line x1="333.5" y1="373.26" x2="331.2" y2="373.26" stroke="#303030" stroke-width="1.0" />
<line x1="514.5" y1="373.26" x2="516.8" y2="373.26" stroke="#303030" stroke-width="1.0" />
<line x1="333.5" y1="375.89" x2="331.2" y2="375.89" stroke="#303030" stroke-width="1.0" />
<line x1="514.5" y1="375.89" x2="516.8" y2="375.89" stroke="#303030" stroke-width="1.0" />
<line x1="333.5" y1="378.51" x2="331.2" y2="378.51" stroke="#303030" stroke-width="1.0" />
<line x1="514.5" y1="378.51" x2="516.8" y2="378.51" stroke="#303030" stroke-width="1.0" />
<line x1="333.5" y1="381.13" x2="331.2" y2="381.13" stroke="#303030" stroke-width="1.0" />
<line x1="514.5" y1="381.13" x2="516.8" y2="381.13" stroke="#303030" stroke-width="1.0" />
<line x1="333.5" y1="383.75" x2="331.2" y2="383.75" stroke="#303030" stroke-width="1.0" />
<line x1="514.5" y1="383.75" x2="516.8" y2="383.75" stroke="#303030" stroke-width="1.0" />
<line x1="333.5" y1="386.38" x2="331.2" y2="386.38" stroke="#303030" stroke-width="1.0" />
<line x1="514.5" y1="386.38" x2="516.8" y2="386.38" stroke="#303030" stroke-width="1.0" />
<line x1="333.5" y1="389" x2="329" y2="389" stroke="#303030" stroke-width="1.0" />
<line x1="514.5" y1="389" x2="519" y2="389" stroke="#303030" stroke-width="1.0" />
<line x1="333.5" y1="391.62" x2="331.2" y2="391.62" stroke="#303030" stroke-width="1.0" />
<line x1="514.5" y1="391.62" x2="516.8" y2="391.62" stroke="#303030" stroke-width="1.0" />
<line x1="333.5" y1="394.25" x2="331.2" y2="394.25" stroke="#303030" stroke-width="1.0" />
<line x1="514.5" y1="394.25" x2="516.8" y2="394.25" stroke="#303030" stroke-width="1.0" />
<line x1="333.5" y1="396.87" x2="331.2" y2="396.87" stroke="#303030" stroke-width="1.0" />
<line x1="514.5" y1="396.87" x2="516.8" y2="396.87" stroke="#303030" stroke-width="1.0" />
<line x1="333.5" y1="399.49" x2="331.2" y2="399.49" stroke="#303030" stroke-width="1.0" />
<line x1="514.5" y1="399.49" x2="516.8" y2="399.49" stroke="#303030" stroke-width="1.0" />
<line x1="333.5" y1="402.11" x2="331.2" y2="402.11" stroke="#303030" stroke-width="1.0" />
<line x1="514.5" y1="402.11" x2="516.8" y2="402.11" stroke="#303030" stroke-width="1.0" />
<line x1="333.5" y1="404.74" x2="331.2" y2="404.74" stroke="#303030" stroke-width="1.0" />
<line x1="514.5" y1="404.74" x2="516.8" y2="404.74" stroke="#303030" stroke-width="1.0" />
<line x1="333.5" y1="407.36" x2="331.2" y2="407.36" stroke="#303030" stroke-width="1.0" />
<line x1="514.5" y1="407.36" x2="516.8" y2="407.36" stroke="#303030" stroke-width="1.0" />
<line x1="333.5" y1="409.98" x2="329" y2="409.98" stroke="#303030" stroke-width="1.0" />
<line x1="514.5" y1="409.98" x2="519" y2="409.98" stroke="#303030" stroke-width="1.0" />
<line x1="333.5" y1="412.6" x2="331.2" y2="412.6" stroke="#303030" stroke-width="1.0" />
<line x1="514.5" y1="412.6" x2="516.8" y2="412.6" stroke="#303030" stroke-width="1.0" />
<line x1="333.5" y1="415.23" x2="331.2" y2="415.23" stroke="#303030" stroke-width="1.0" />
<line x1="514.5" y1="415.23" x2="516.8" y2="415.23" stroke="#303030" stroke-width="1.0" />
<line x1="333.5" y1="417.85" x2="331.2" y2="417.85" stroke="#303030" stroke-width="1.0" />
<line x1="514.5" y1="417.85" x2="516.8" y2="417.85" stroke="#303030" stroke-width="1.0" />
<line x1="333.5" y1="423.3" x2="331.2" y2="423.3" stroke="#303030" stroke-width="1.0" />
<line x1="514.5" y1="423.3" x2="516.8" y2="423.3" stroke="#303030" stroke-width="1.0" />
<line x1="333.5" y1="425.86" x2="331.2" y2="425.86" stroke="#303030" stroke-width="1.0" />
<line x1="514.5" y1="425.86" x2="516.8" y2="425.86" stroke="#303030" stroke-width="1.0" />
<line x1="333.5" y1="428.43" x2="331.2" y2="428.43" stroke="#303030" stroke-width="1.0" />
<line x1="514.5" y1="428.43" x2="516.8" y2="428.43" stroke="#303030" stroke-width="1.0" />
<line x1="333.5" y1="430.99" x2="331.2" y2="430.99" stroke="#303030" stroke-width="1.0" />
<line x1="514.5" y1="430.99" x2="516.8" y2="430.99" stroke="#303030" stroke-width="1.0" />
<line x1="333.5" y1="433.56" x2="331.2" y2="433.56" stroke="#303030" stroke-width="1.0" />
<line x1="514.5" y1="433.56" x2="516.8" y2="433.56" stroke="#303030" stroke-width="1.0" />
<line x1="333.5" y1="436.12" x2="329" y2="436.12" stroke="#303030" stroke-width="1.0" />
<line x1="514.5" y1="436.12" x2="519" y2="436.12" stroke="#303030" stroke-width="1.0" />
<line x1="333.5" y1="438.68" x2="331.2" y2="438.68" stroke="#303030" stroke-width="1.0" />
<line x1="514.5" y1="438.68" x2="516.8" y2="438.68" stroke="#303030" stroke-width="1.0" />
<line x1="333.5" y1="441.25" x2="331.2" y2="441.25" stroke="#303030" stroke-width="1.0" />
<line x1="514.5" y1="441.25" x2="516.8" y2="441.25" stroke="#303030" stroke-width="1.0" />
<line x1="333.5" y1="443.81" x2="331.2" y2="443.81" stroke="#303030" stroke-width="1.0" />
<line x1="514.5" y1="443.81" x2="516.8" y2="443.81" stroke="#303030" stroke-width="1.0" />
<line x1="333.5" y1="446.38" x2="331.2" y2="446.38" stroke="#303030" stroke-width="1.0" />
<line x1="514.5" y1="446.38" x2="516.8" y2="446.38" stroke="#303030" stroke-width="1.0" />
<line x1="333.5" y1="448.94" x2="331.2" y2="448.94" stroke="#303030" stroke-width="1.0" />
<line x1="514.5" y1="448.94" x2="516.8" y2="448.94" stroke="#303030" stroke-width="1.0" />
<line x1="333.5" y1="451.5" x2="331.2" y2="451.5" stroke="#303030" stroke-width="1.0" />
<line x1="514.5" y1="451.5" x2="516.8" y2="451.5" stroke="#303030" stroke-width="1.0" />
<line x1="333.5" y1="454.07" x2="331.2" y2="454.07" stroke="#303030" stroke-width="1.0" />
<line x1="514.5" y1="454.07" x2="516.8" y2="454.07" stroke="#303030" stroke-width="1.0" />
<line x1="333.5" y1="456.63" x2="331.2" y2="456.63" stroke="#303030" stroke-width="1.0" />
<line x1="514.5" y1="456.63" x2="516.8" y2="456.63" stroke="#303030" stroke-width="1.0" />
<line x1="333.5" y1="459.2" x2="331.2" y2="459.2" stroke="#303030" stroke-width="1.0" />
<line x1="514.5" y1="459.2" x2="516.8" y2="459.2" stroke="#303030" stroke-width="1.0" />
<line x1="333.5" y1="461.76" x2="329" y2="461.76" stroke="#303030" stroke-width="1.0" />
<line x1="514.5" y1="461.76" x2="519" y2="461.76" stroke="#303030" stroke-width="1.0" />
<line x1="333.5" y1="464.32" x2="331.2" y2="464.32" stroke="#303030" stroke-width="1.0" />
<line x1="514.5" y1="464.32" x2="516.8" y2="464.32" stroke="#303030" stroke-width="1.0" />
<line x1="333.5" y1="466.89" x2="331.2" y2="466.89" stroke="#303030" stroke-width="1.0" />
<line x1="514.5" y1="466.89" x2="516.8" y2="466.89" stroke="#303030" stroke-width="1.0" />
<line x1="333.5" y1="469.45" x2="331.2" y2="469.45" stroke="#303030" stroke-width="1.0" />
<line x1="514.5" y1="469.45" x2="516.8" y2="469.45" stroke="#303030" stroke-width="1.0" />
<line x1="333.5" y1="472.02" x2="331.2" y2="472.02" stroke="#303030" stroke-width="1.0" />
<line x1="514.5" y1="472.02" x2="516.8" y2="472.02" stroke="#303030" stroke-width="1.0" />
<line x1="333.5" y1="474.58" x2="331.2" y2="474.58" stroke="#303030" stroke-width="1.0" />
<line x1="514.5" y1="474.58" x2="516.8" y2="474.58" stroke="#303030" stroke-width="1.0" />
<line x1="333.5" y1="477.14" x2="331.2" y2="477.14" stroke="#303030" stroke-width="1.0" />
<line x1="514.5" y1="477.14" x2="516.8" y2="477.14" stroke="#303030" stroke-width="1.0" />
<line x1="333.5" y1="479.71" x2="331.2" y2="479.71" stroke="#303030" stroke-width="1.0" />
<line x1="514.5" y1="479.71" x2="516.8" y2="479.71" stroke="#303030" stroke-width="1.0" />
<line x1="333.5" y1="482.27" x2="331.2" y2="482.27" stroke="#303030" stroke-width="1.0" />
<line x1="514.5" y1="482.27" x2="516.8" y2="482.27" stroke="#303030" stroke-width="1.0" />
<line x1="333.5" y1="484.84" x2="331.2" y2="484.84" stroke="#303030" stroke-width="1.0" />
<line x1="514.5" y1="484.84" x2="516.8" y2="484.84" stroke="#303030" stroke-width="1.0" />
<line x1="333.5" y1="487.4" x2="329" y2="487.4" stroke="#303030" stroke-width="1.0" />
<line x1="514.5" y1="487.4" x2="519" y2="487.4" stroke="#303030" stroke-width="1.0" />
<line x1="333.5" y1="489.96" x2="331.2" y2="489.96" stroke="#303030" stroke-width="1.0" />
<line x1="514.5" y1="489.96" x2="516.8" y2="489.96" stroke="#303030" stroke-width="1.0" />
<line x1="333.5" y1="492.53" x2="331.2" y2="492.53" stroke="#303030" stroke-width="1.0" />
<line x1="514.5" y1="492.53" x2="516.8" y2="492.53" stroke="#303030" stroke-width="1.0" />
<line x1="333.5" y1="495.09" x2="331.2" y2="495.09" stroke="#303030" stroke-width="1.0" />
<line x1="514.5" y1="495.09" x2="516.8" y2="495.09" stroke="#303030" stroke-width="1.0" />
<line x1="333.5" y1="497.66" x2="331.2" y2="497.66" stroke="#303030" stroke-width="1.0" />
<line x1="514.5" y1="497.66" x2="516.8" y2="497.66" stroke="#303030" stroke-width="1.0" />
<line x1="333.5" y1="500.22" x2="331.2" y2="500.22" stroke="#303030" stroke-width="1.0" />
<line x1="514.5" y1="500.22" x2="516.8" y2="500.22" stroke="#303030" stroke-width="1.0" />
<line x1="333.5" y1="502.78" x2="331.2" y2="502.78" stroke="#303030" stroke-width="1.0" />
<line x1="514.5" y1="502.78" x2="516.8" y2="502.78" stroke="#303030" stroke-width="1.0" />
<line x1="333.5" y1="505.35" x2="331.2" y2="505.35" stroke="#303030" stroke-width="1.0" />
<line x1="514.5" y1="505.35" x2="516.8" y2="505.35" stroke="#303030" stroke-width="1.0" />
<line x1="333.5" y1="507.91" x2="331.2" y2="507.91" stroke="#303030" stroke-width="1.0" />
<line x1="514.5" y1="507.91" x2="516.8" y2="507.91" stroke="#303030" stroke-width="1.0" />
<line x1="333.5" y1="510.48" x2="331.2" y2="510.48" stroke="#303030" stroke-width="1.0" />
<line x1="514.5" y1="510.48" x2="516.8" y2="510.48" stroke="#303030" stroke-width="1.0" />
<line x1="333.5" y1="513.04" x2="329" y2="513.04" stroke="#303030" stroke-width="1.0" />
<line x1="514.5" y1="513.04" x2="519" y2="513.04" stroke="#303030" stroke-width="1.0" />
<line x1="333.5" y1="515.6" x2="331.2" y2="515.6" stroke="#303030" stroke-width="1.0" />
<line x1="514.5" y1="515.6" x2="516.8" y2="515.6" stroke="#303030" stroke-width="1.0" />
<line x1="333.5" y1="518.17" x2="331.2" y2="518.17" stroke="#303030" stroke-width="1.0" />
<line x1="514.5" y1="518.17" x2="516.8" y2="518.17" stroke="#303030" stroke-width="1.0" />
<line x1="333.5" y1="520.73" x2="331.2" y2="520.73" stroke="#303030" stroke-width="1.0" />
<line x1="514.5" y1="520.73" x2="516.8" y2="520.73" stroke="#303030" stroke-width="1.0" />
<line x1="333.5" y1="523.3" x2="331.2" y2="523.3" stroke="#303030" stroke-width="1.0" />
<line x1="514.5" y1="523.3" x2="516.8" y2="523.3" stroke="#303030" stroke-width="1.0" />
<line x1="333.5" y1="525.86" x2="331.2" y2="525.86" stroke="#303030" stroke-width="1.0" />
<line x1="514.5" y1="525.86" x2="516.8" y2="525.86" stroke="#303030" stroke-width="1.0" />
<line x1="333.5" y1="528.42" x2="331.2" y2="528.42" stroke="#303030" stroke-width="1.0" />
<line x1="514.5" y1="528.42" x2="516.8" y2="528.42" stroke="#303030" stroke-width="1.0" />
<line x1="333.5" y1="530.99" x2="331.2" y2="530.99" stroke="#303030" stroke-width="1.0" />
<line x1="514.5" y1="530.99" x2="516.8" y2="530.99" stroke="#303030" stroke-width="1.0" />
<line x1="333.5" y1="533.55" x2="331.2" y2="533.55" stroke="#303030" stroke-width="1.0" />
<line x1="514.5" y1="533.55" x2="516.8" y2="533.55" stroke="#303030" stroke-width="1.0" />
<line x1="333.5" y1="536.12" x2="331.2" y2="536.12" stroke="#303030" stroke-width="1.0" />
<line x1="514.5" y1="536.12" x2="516.8" y2="536.12" stroke="#303030" stroke-width="1.0" />
<line x1="333.5" y1="538.68" x2="329" y2="538.68" stroke="#303030" stroke-width="1.0" />
<line x1="514.5" y1="538.68" x2="519" y2="538.68" stroke="#303030" stroke-width="1.0" />
<line x1="333.5" y1="541.24" x2="331.2" y2="541.24" stroke="#303030" stroke-width="1.0" />
<line x1="514.5" y1="541.24" x2="516.8" y2="541.24" stroke="#303030" stroke-width="1.0" />
<line x1="333.5" y1="543.81" x2="331.2" y2="543.81" stroke="#303030" stroke-width="1.0" />
<line x1="514.5" y1="543.81" x2="516.8" y2="543.81" stroke="#303030" stroke-width="1.0" />
<line x1="333.5" y1="546.37" x2="331.2" y2="546.37" stroke="#303030" stroke-width="1.0" />
<line x1="514.5" y1="546.37" x2="516.8" y2="546.37" stroke="#303030" stroke-width="1.0" />
<line x1="333.5" y1="548.94" x2="331.2" y2="548.94" stroke="#303030" stroke-width="1.0" />
<line x1="514.5" y1="548.94" x2="516.8" y2="548.94" stroke="#303030" stroke-width="1.0" />
<line x1="333.5" y1="551.5" x2="331.2" y2="551.5" stroke="#303030" stroke-width="1.0" />
<line x1="514.5" y1="551.5" x2="516.8" y2="551.5" stroke="#303030" stroke-width="1.0" />
<line x1="333.5" y1="554.06" x2="331.2" y2="554.06" stroke="#303030" stroke-width="1.0" />
<line x1="514.5" y1="554.06" x2="516.8" y2="554.06" stroke="#303030" stroke-width="1.0" />
<line x1="394.85" y1="281.8" x2="394.85" y2="280" stroke="#555" stroke-width="0.8" />
<line x1="394.85" y1="554.4" x2="394.85" y2="556.4" stroke="#555" stroke-width="0.8" />
<line x1="394.85" y1="417.9" x2="394.85" y2="416.4" stroke="#555" stroke-width="0.8" />
<line x1="394.85" y1="420.5" x2="394.85" y2="422" stroke="#555" stroke-width="0.8" />
<line x1="452.15" y1="281.8" x2="452.15" y2="280" stroke="#555" stroke-width="0.8" />
<line x1="452.15" y1="554.4" x2="452.15" y2="556.4" stroke="#555" stroke-width="0.8" />
<line x1="452.15" y1="417.9" x2="452.15" y2="416.4" stroke="#555" stroke-width="0.8" />
<line x1="452.15" y1="420.5" x2="452.15" y2="422" stroke="#555" stroke-width="0.8" />
<line x1="366.2" y1="281.8" x2="366.2" y2="278.8" stroke="#303030" stroke-width="1.0" />
<line x1="366.2" y1="554.4" x2="366.2" y2="557.9" stroke="#303030" stroke-width="1.0" />
<line x1="366.2" y1="417.9" x2="366.2" y2="415.9" stroke="#303030" stroke-width="1.0" />
<line x1="366.2" y1="420.5" x2="366.2" y2="422.5" stroke="#303030" stroke-width="1.0" />
<line x1="423.5" y1="281.8" x2="423.5" y2="278.8" stroke="#303030" stroke-width="1.0" />
<line x1="423.5" y1="554.4" x2="423.5" y2="557.9" stroke="#303030" stroke-width="1.0" />
<line x1="423.5" y1="417.9" x2="423.5" y2="415.9" stroke="#303030" stroke-width="1.0" />
<line x1="423.5" y1="420.5" x2="423.5" y2="422.5" stroke="#303030" stroke-width="1.0" />
<line x1="480.8" y1="281.8" x2="480.8" y2="278.8" stroke="#303030" stroke-width="1.0" />
<line x1="480.8" y1="554.4" x2="480.8" y2="557.9" stroke="#303030" stroke-width="1.0" />
<line x1="480.8" y1="417.9" x2="480.8" y2="415.9" stroke="#303030" stroke-width="1.0" />
<line x1="480.8" y1="420.5" x2="480.8" y2="422.5" stroke="#303030" stroke-width="1.0" />
<text x="326.2" y="287.3" font-size="8.9" stroke="#1a1a1a" stroke-width="0.3" font-weight="bold" text-anchor="end" textLength="29.2" lengthAdjust="spacingAndGlyphs" fill="#1a1a1a">406.0</text>
<text x="326.2" y="308.28" font-size="8.9" stroke="#1a1a1a" stroke-width="0.3" font-weight="bold" text-anchor="end" textLength="29.2" lengthAdjust="spacingAndGlyphs" fill="#1a1a1a">405.6</text>
<text x="326.2" y="329.26" font-size="8.9" stroke="#1a1a1a" stroke-width="0.3" font-weight="bold" text-anchor="end" textLength="29.2" lengthAdjust="spacingAndGlyphs" fill="#1a1a1a">405.2</text>
<text x="326.2" y="350.24" font-size="8.9" stroke="#1a1a1a" stroke-width="0.3" font-weight="bold" text-anchor="end" textLength="29.2" lengthAdjust="spacingAndGlyphs" fill="#1a1a1a">404.8</text>
<text x="326.2" y="371.22" font-size="8.9" stroke="#1a1a1a" stroke-width="0.3" font-weight="bold" text-anchor="end" textLength="29.2" lengthAdjust="spacingAndGlyphs" fill="#1a1a1a">404.4</text>
<text x="326.2" y="392.2" font-size="8.9" stroke="#1a1a1a" stroke-width="0.3" font-weight="bold" text-anchor="end" textLength="29.2" lengthAdjust="spacingAndGlyphs" fill="#1a1a1a">404.0</text>
<text x="326.2" y="413.18" font-size="8.9" stroke="#1a1a1a" stroke-width="0.3" font-weight="bold" text-anchor="end" textLength="29.2" lengthAdjust="spacingAndGlyphs" fill="#1a1a1a">403.6</text>
<text x="327.3" y="439.32" font-size="8.9" stroke="#1a1a1a" stroke-width="0.3" font-weight="bold" text-anchor="end" textLength="28.5" lengthAdjust="spacingAndGlyphs" fill="#1a1a1a">385.4</text>
<text x="327.3" y="464.96" font-size="8.9" stroke="#1a1a1a" stroke-width="0.3" font-weight="bold" text-anchor="end" textLength="28.5" lengthAdjust="spacingAndGlyphs" fill="#1a1a1a">385.2</text>
<text x="327.3" y="490.6" font-size="8.9" stroke="#1a1a1a" stroke-width="0.3" font-weight="bold" text-anchor="end" textLength="28.5" lengthAdjust="spacingAndGlyphs" fill="#1a1a1a">385.0</text>
<text x="327.3" y="516.24" font-size="8.9" stroke="#1a1a1a" stroke-width="0.3" font-weight="bold" text-anchor="end" textLength="28.5" lengthAdjust="spacingAndGlyphs" fill="#1a1a1a">384.8</text>
<text x="327.3" y="541.88" font-size="8.9" stroke="#1a1a1a" stroke-width="0.3" font-weight="bold" text-anchor="end" textLength="28.5" lengthAdjust="spacingAndGlyphs" fill="#1a1a1a">384.6</text>
<text x="347.8" y="571.5" font-size="14.4" stroke="#1a1a1a" stroke-width="0.3" font-weight="bold" textLength="39.2" lengthAdjust="spacingAndGlyphs" fill="#1a1a1a">Al<tspan font-size="9.5" dy="2.4">2</tspan><tspan dy="-2.4">O</tspan><tspan font-size="9.5" dy="2.4">3</tspan></text>
<text x="410.6" y="571.5" font-size="14.4" stroke="#1a1a1a" stroke-width="0.3" font-weight="bold" textLength="33.2" lengthAdjust="spacingAndGlyphs" fill="#1a1a1a">ZrO<tspan font-size="9.5" dy="2.4">2</tspan></text>
<text x="468.7" y="571.3" font-size="14.4" stroke="#1a1a1a" stroke-width="0.3" font-weight="bold" textLength="32.3" lengthAdjust="spacingAndGlyphs" fill="#1a1a1a">SiO<tspan font-size="9.5" dy="2.4">2</tspan></text>
<text x="487.7" y="298.8" font-size="19.6" stroke="#1a1a1a" stroke-width="0.3" font-weight="bold" textLength="23.8" lengthAdjust="spacingAndGlyphs" fill="#1a1a1a">(d)</text>
<text x="0" y="0" font-size="10.3" stroke="#1a1a1a" stroke-width="0.3" font-weight="bold" textLength="45.8" lengthAdjust="spacingAndGlyphs" fill="#1a1a1a" transform="translate(290.2,373.6) rotate(-90)">A<tspan font-size="6.8" dy="2.8">1g</tspan><tspan dy="-2.8"> (cm</tspan><tspan font-size="6" dy="-7.5">-1</tspan><tspan dy="7.5">)</tspan></text>
<text x="0" y="0" font-size="10.3" stroke="#1a1a1a" stroke-width="0.3" font-weight="bold" textLength="47.8" lengthAdjust="spacingAndGlyphs" fill="#1a1a1a" transform="translate(291.6,511) rotate(-90)">E<tspan font-size="6.5" dy="-6.5">1</tspan><tspan font-size="6.8" dy="9.5">2g</tspan><tspan dy="-3"> (cm</tspan><tspan font-size="6" dy="-7.5">-1</tspan><tspan dy="7.5">)</tspan></text>
<line x1="366.2" y1="300.62" x2="366.2" y2="309.54" stroke="#14164a" stroke-width="1.2" />
<line x1="364" y1="300.62" x2="368.4" y2="300.62" stroke="#14164a" stroke-width="1.2" />
<line x1="364" y1="309.54" x2="368.4" y2="309.54" stroke="#14164a" stroke-width="1.2" />
<circle cx="366.2" cy="305.08" r="2.1" fill="#14164a"/>
<line x1="423.5" y1="347.83" x2="423.5" y2="356.74" stroke="#14164a" stroke-width="1.2" />
<line x1="421.3" y1="347.83" x2="425.7" y2="347.83" stroke="#14164a" stroke-width="1.2" />
<line x1="421.3" y1="356.74" x2="425.7" y2="356.74" stroke="#14164a" stroke-width="1.2" />
<circle cx="423.5" cy="352.29" r="2.1" fill="#14164a"/>
<line x1="480.8" y1="379.3" x2="480.8" y2="388.21" stroke="#14164a" stroke-width="1.2" />
<line x1="478.6" y1="379.3" x2="483" y2="379.3" stroke="#14164a" stroke-width="1.2" />
<line x1="478.6" y1="388.21" x2="483" y2="388.21" stroke="#14164a" stroke-width="1.2" />
<circle cx="480.8" cy="383.75" r="2.1" fill="#14164a"/>
<line x1="366.2" y1="513.04" x2="366.2" y2="538.68" stroke="#9a4f95" stroke-width="1.2" />
<line x1="364.9" y1="513.04" x2="367.5" y2="513.04" stroke="#9a4f95" stroke-width="1.0" />
<line x1="364.9" y1="538.68" x2="367.5" y2="538.68" stroke="#9a4f95" stroke-width="1.0" />
<rect x="363.7" y="523.46" width="5" height="4.8" fill="#b5158f"/>
<line x1="423.5" y1="487.4" x2="423.5" y2="513.04" stroke="#9a4f95" stroke-width="1.2" />
<line x1="422.2" y1="487.4" x2="424.8" y2="487.4" stroke="#9a4f95" stroke-width="1.0" />
<line x1="422.2" y1="513.04" x2="424.8" y2="513.04" stroke="#9a4f95" stroke-width="1.0" />
<rect x="421" y="497.82" width="5" height="4.8" fill="#b5158f"/>
<line x1="480.8" y1="461.12" x2="480.8" y2="488.04" stroke="#9a4f95" stroke-width="1.2" />
<line x1="479.5" y1="461.12" x2="482.1" y2="461.12" stroke="#9a4f95" stroke-width="1.0" />
<line x1="479.5" y1="488.04" x2="482.1" y2="488.04" stroke="#9a4f95" stroke-width="1.0" />
<rect x="478.3" y="472.18" width="5" height="4.8" fill="#b5158f"/>
</svg>
</body></html>
